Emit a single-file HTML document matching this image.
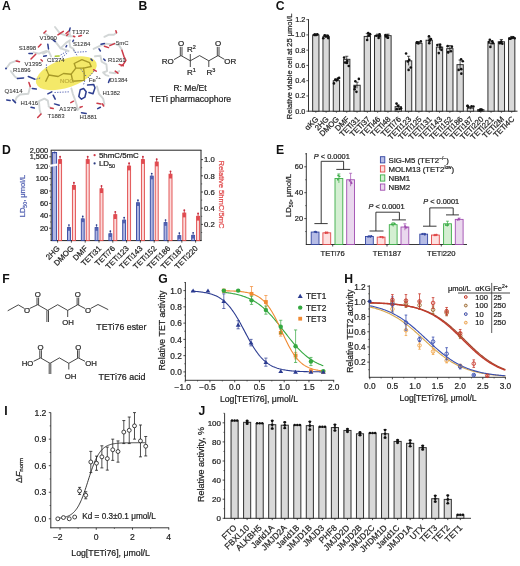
<!DOCTYPE html>
<html><head><meta charset="utf-8"><style>
html,body{margin:0;padding:0;background:#fff;width:520px;height:566px;overflow:hidden}
svg{display:block;filter:blur(0.3px)}
text{font-family:'Liberation Sans', Arial, sans-serif}
</style></head><body>
<svg width="520" height="566" viewBox="0 0 520 566">
<rect width="520" height="566" fill="#fff"/>
<text x="2" y="10.3" font-size="12.2" text-anchor="start" fill="#111" font-weight="bold" >A</text>
<text x="138.5" y="10.3" font-size="12.2" text-anchor="start" fill="#111" font-weight="bold" >B</text>
<text x="275.8" y="10.3" font-size="12.2" text-anchor="start" fill="#111" font-weight="bold" >C</text>
<text x="2" y="154" font-size="12.2" text-anchor="start" fill="#111" font-weight="bold" >D</text>
<text x="276" y="154" font-size="12.2" text-anchor="start" fill="#111" font-weight="bold" >E</text>
<text x="2.3" y="283.3" font-size="12.2" text-anchor="start" fill="#111" font-weight="bold" >F</text>
<text x="158.3" y="283.4" font-size="12.2" text-anchor="start" fill="#111" font-weight="bold" >G</text>
<text x="344.3" y="283.1" font-size="12.2" text-anchor="start" fill="#111" font-weight="bold" >H</text>
<text x="4.3" y="415" font-size="12.2" text-anchor="start" fill="#111" font-weight="bold" >I</text>
<text x="198.5" y="415" font-size="12.2" text-anchor="start" fill="#111" font-weight="bold" >J</text>
<line x1="308.5" y1="19.14" x2="308.5" y2="111.6" stroke="#333" stroke-width="1.0" />
<line x1="308" y1="111.2" x2="517.5" y2="111.2" stroke="#333" stroke-width="1.0" />
<line x1="306.3" y1="111.2" x2="308.5" y2="111.2" stroke="#333" stroke-width="0.8" />
<text x="305.3" y="113.7" font-size="7.3" text-anchor="end" fill="#1e1e1e" font-weight="normal" stroke="#1e1e1e" stroke-width="0.22" >0.0</text>
<line x1="306.3" y1="95.94" x2="308.5" y2="95.94" stroke="#333" stroke-width="0.8" />
<text x="305.3" y="98.44" font-size="7.3" text-anchor="end" fill="#1e1e1e" font-weight="normal" stroke="#1e1e1e" stroke-width="0.22" >0.2</text>
<line x1="306.3" y1="80.68" x2="308.5" y2="80.68" stroke="#333" stroke-width="0.8" />
<text x="305.3" y="83.18" font-size="7.3" text-anchor="end" fill="#1e1e1e" font-weight="normal" stroke="#1e1e1e" stroke-width="0.22" >0.4</text>
<line x1="306.3" y1="65.42" x2="308.5" y2="65.42" stroke="#333" stroke-width="0.8" />
<text x="305.3" y="67.92" font-size="7.3" text-anchor="end" fill="#1e1e1e" font-weight="normal" stroke="#1e1e1e" stroke-width="0.22" >0.6</text>
<line x1="306.3" y1="50.16" x2="308.5" y2="50.16" stroke="#333" stroke-width="0.8" />
<text x="305.3" y="52.66" font-size="7.3" text-anchor="end" fill="#1e1e1e" font-weight="normal" stroke="#1e1e1e" stroke-width="0.22" >0.8</text>
<line x1="306.3" y1="34.9" x2="308.5" y2="34.9" stroke="#333" stroke-width="0.8" />
<text x="305.3" y="37.4" font-size="7.3" text-anchor="end" fill="#1e1e1e" font-weight="normal" stroke="#1e1e1e" stroke-width="0.22" >1.0</text>
<line x1="306.3" y1="19.64" x2="308.5" y2="19.64" stroke="#333" stroke-width="0.8" />
<text x="305.3" y="22.14" font-size="7.3" text-anchor="end" fill="#1e1e1e" font-weight="normal" stroke="#1e1e1e" stroke-width="0.22" >1.2</text>
<text x="292.3" y="66.4" font-size="7.5" text-anchor="middle" fill="#1e1e1e" font-weight="normal" stroke="#1e1e1e" stroke-width="0.22" transform="rotate(-90 292.3 66.4)" >Relative viable cell at 25 μmol/L</text>
<rect x="312.65" y="34.9" width="6.3" height="76.3" fill="#d9d9d9" stroke="#303030" stroke-width="1.0" />
<line x1="315.8" y1="34.14" x2="315.8" y2="35.66" stroke="#111" stroke-width="0.7" />
<line x1="314.2" y1="34.14" x2="317.4" y2="34.14" stroke="#111" stroke-width="0.7" />
<circle cx="317.35" cy="34.37" r="1.3" fill="#111" stroke="none" stroke-width="0.6"/>
<circle cx="314.35" cy="35.02" r="1.3" fill="#111" stroke="none" stroke-width="0.6"/>
<circle cx="315.23" cy="34.88" r="1.3" fill="#111" stroke="none" stroke-width="0.6"/>
<circle cx="314.62" cy="34.47" r="1.3" fill="#111" stroke="none" stroke-width="0.6"/>
<circle cx="316.3" cy="34.94" r="1.3" fill="#111" stroke="none" stroke-width="0.6"/>
<line x1="315.8" y1="111.2" x2="315.8" y2="112.8" stroke="#333" stroke-width="0.7" />
<text x="319" y="119.6" font-size="7.8" text-anchor="end" fill="#1e1e1e" font-weight="normal" stroke="#1e1e1e" stroke-width="0.22" transform="rotate(-45 319 119.6)" >αKG</text>
<rect x="322.96" y="36.43" width="6.3" height="74.77" fill="#d9d9d9" stroke="#303030" stroke-width="1.0" />
<line x1="326.11" y1="34.9" x2="326.11" y2="37.95" stroke="#111" stroke-width="0.7" />
<line x1="324.51" y1="34.9" x2="327.71" y2="34.9" stroke="#111" stroke-width="0.7" />
<circle cx="328.19" cy="38.1" r="1.3" fill="#111" stroke="none" stroke-width="0.6"/>
<circle cx="324.64" cy="35.22" r="1.3" fill="#111" stroke="none" stroke-width="0.6"/>
<circle cx="325.81" cy="36.45" r="1.3" fill="#111" stroke="none" stroke-width="0.6"/>
<circle cx="327.84" cy="35.73" r="1.3" fill="#111" stroke="none" stroke-width="0.6"/>
<circle cx="323.28" cy="38.29" r="1.3" fill="#111" stroke="none" stroke-width="0.6"/>
<line x1="326.11" y1="111.2" x2="326.11" y2="112.8" stroke="#333" stroke-width="0.7" />
<text x="329.31" y="119.6" font-size="7.8" text-anchor="end" fill="#1e1e1e" font-weight="normal" stroke="#1e1e1e" stroke-width="0.22" transform="rotate(-45 329.31 119.6)" >2HG</text>
<rect x="333.27" y="80.68" width="6.3" height="30.52" fill="#d9d9d9" stroke="#303030" stroke-width="1.0" />
<line x1="336.42" y1="79.15" x2="336.42" y2="82.21" stroke="#111" stroke-width="0.7" />
<line x1="334.82" y1="79.15" x2="338.02" y2="79.15" stroke="#111" stroke-width="0.7" />
<circle cx="339.11" cy="77.9" r="1.3" fill="#111" stroke="none" stroke-width="0.6"/>
<circle cx="333.93" cy="83.39" r="1.3" fill="#111" stroke="none" stroke-width="0.6"/>
<circle cx="337.84" cy="78.63" r="1.3" fill="#111" stroke="none" stroke-width="0.6"/>
<circle cx="335.27" cy="79.64" r="1.3" fill="#111" stroke="none" stroke-width="0.6"/>
<circle cx="337.06" cy="80.03" r="1.3" fill="#111" stroke="none" stroke-width="0.6"/>
<line x1="336.42" y1="111.2" x2="336.42" y2="112.8" stroke="#333" stroke-width="0.7" />
<text x="339.62" y="119.6" font-size="7.8" text-anchor="end" fill="#1e1e1e" font-weight="normal" stroke="#1e1e1e" stroke-width="0.22" transform="rotate(-45 339.62 119.6)" >DMOG</text>
<rect x="343.58" y="59.32" width="6.3" height="51.88" fill="#d9d9d9" stroke="#303030" stroke-width="1.0" />
<line x1="346.73" y1="56.26" x2="346.73" y2="62.37" stroke="#111" stroke-width="0.7" />
<line x1="345.13" y1="56.26" x2="348.33" y2="56.26" stroke="#111" stroke-width="0.7" />
<circle cx="347" cy="62.91" r="1.3" fill="#111" stroke="none" stroke-width="0.6"/>
<circle cx="347.35" cy="61.1" r="1.3" fill="#111" stroke="none" stroke-width="0.6"/>
<circle cx="344.12" cy="57.59" r="1.3" fill="#111" stroke="none" stroke-width="0.6"/>
<circle cx="348.75" cy="66" r="1.3" fill="#111" stroke="none" stroke-width="0.6"/>
<circle cx="345.14" cy="62.62" r="1.3" fill="#111" stroke="none" stroke-width="0.6"/>
<line x1="346.73" y1="111.2" x2="346.73" y2="112.8" stroke="#333" stroke-width="0.7" />
<text x="349.93" y="119.6" font-size="7.8" text-anchor="end" fill="#1e1e1e" font-weight="normal" stroke="#1e1e1e" stroke-width="0.22" transform="rotate(-45 349.93 119.6)" >DMF</text>
<rect x="353.89" y="85.26" width="6.3" height="25.94" fill="#d9d9d9" stroke="#303030" stroke-width="1.0" />
<line x1="357.04" y1="82.21" x2="357.04" y2="88.31" stroke="#111" stroke-width="0.7" />
<line x1="355.44" y1="82.21" x2="358.64" y2="82.21" stroke="#111" stroke-width="0.7" />
<circle cx="354.66" cy="89.29" r="1.3" fill="#111" stroke="none" stroke-width="0.6"/>
<circle cx="354.97" cy="86.84" r="1.3" fill="#111" stroke="none" stroke-width="0.6"/>
<circle cx="356.45" cy="91.87" r="1.3" fill="#111" stroke="none" stroke-width="0.6"/>
<circle cx="358.84" cy="78.88" r="1.3" fill="#111" stroke="none" stroke-width="0.6"/>
<circle cx="355.37" cy="81.21" r="1.3" fill="#111" stroke="none" stroke-width="0.6"/>
<line x1="357.04" y1="111.2" x2="357.04" y2="112.8" stroke="#333" stroke-width="0.7" />
<text x="360.24" y="119.6" font-size="7.8" text-anchor="end" fill="#1e1e1e" font-weight="normal" stroke="#1e1e1e" stroke-width="0.22" transform="rotate(-45 360.24 119.6)" >TETi31</text>
<rect x="364.2" y="36.43" width="6.3" height="74.77" fill="#d9d9d9" stroke="#303030" stroke-width="1.0" />
<line x1="367.35" y1="33.37" x2="367.35" y2="39.48" stroke="#111" stroke-width="0.7" />
<line x1="365.75" y1="33.37" x2="368.95" y2="33.37" stroke="#111" stroke-width="0.7" />
<circle cx="368.8" cy="35.49" r="1.3" fill="#111" stroke="none" stroke-width="0.6"/>
<circle cx="370" cy="34.17" r="1.3" fill="#111" stroke="none" stroke-width="0.6"/>
<circle cx="369.88" cy="34.6" r="1.3" fill="#111" stroke="none" stroke-width="0.6"/>
<circle cx="367.14" cy="40.02" r="1.3" fill="#111" stroke="none" stroke-width="0.6"/>
<circle cx="368.24" cy="33.04" r="1.3" fill="#111" stroke="none" stroke-width="0.6"/>
<line x1="367.35" y1="111.2" x2="367.35" y2="112.8" stroke="#333" stroke-width="0.7" />
<text x="370.55" y="119.6" font-size="7.8" text-anchor="end" fill="#1e1e1e" font-weight="normal" stroke="#1e1e1e" stroke-width="0.22" transform="rotate(-45 370.55 119.6)" >TETi37</text>
<rect x="374.51" y="35.66" width="6.3" height="75.54" fill="#d9d9d9" stroke="#303030" stroke-width="1.0" />
<line x1="377.66" y1="34.14" x2="377.66" y2="37.19" stroke="#111" stroke-width="0.7" />
<line x1="376.06" y1="34.14" x2="379.26" y2="34.14" stroke="#111" stroke-width="0.7" />
<circle cx="379.59" cy="34.32" r="1.3" fill="#111" stroke="none" stroke-width="0.6"/>
<circle cx="376.23" cy="35.73" r="1.3" fill="#111" stroke="none" stroke-width="0.6"/>
<circle cx="378.64" cy="37.95" r="1.3" fill="#111" stroke="none" stroke-width="0.6"/>
<circle cx="379.22" cy="35.8" r="1.3" fill="#111" stroke="none" stroke-width="0.6"/>
<circle cx="379.28" cy="36.24" r="1.3" fill="#111" stroke="none" stroke-width="0.6"/>
<line x1="377.66" y1="111.2" x2="377.66" y2="112.8" stroke="#333" stroke-width="0.7" />
<text x="380.86" y="119.6" font-size="7.8" text-anchor="end" fill="#1e1e1e" font-weight="normal" stroke="#1e1e1e" stroke-width="0.22" transform="rotate(-45 380.86 119.6)" >TETi46</text>
<rect x="384.82" y="35.66" width="6.3" height="75.54" fill="#d9d9d9" stroke="#303030" stroke-width="1.0" />
<line x1="387.97" y1="34.14" x2="387.97" y2="37.19" stroke="#111" stroke-width="0.7" />
<line x1="386.37" y1="34.14" x2="389.57" y2="34.14" stroke="#111" stroke-width="0.7" />
<circle cx="385.88" cy="36.47" r="1.3" fill="#111" stroke="none" stroke-width="0.6"/>
<circle cx="385.4" cy="34.97" r="1.3" fill="#111" stroke="none" stroke-width="0.6"/>
<circle cx="387.16" cy="35.5" r="1.3" fill="#111" stroke="none" stroke-width="0.6"/>
<circle cx="388.01" cy="37.69" r="1.3" fill="#111" stroke="none" stroke-width="0.6"/>
<circle cx="387.57" cy="37.78" r="1.3" fill="#111" stroke="none" stroke-width="0.6"/>
<line x1="387.97" y1="111.2" x2="387.97" y2="112.8" stroke="#333" stroke-width="0.7" />
<text x="391.17" y="119.6" font-size="7.8" text-anchor="end" fill="#1e1e1e" font-weight="normal" stroke="#1e1e1e" stroke-width="0.22" transform="rotate(-45 391.17 119.6)" >TETi48</text>
<rect x="395.13" y="106.62" width="6.3" height="4.58" fill="#d9d9d9" stroke="#303030" stroke-width="1.0" />
<line x1="398.28" y1="105.1" x2="398.28" y2="108.15" stroke="#111" stroke-width="0.7" />
<line x1="396.68" y1="105.1" x2="399.88" y2="105.1" stroke="#111" stroke-width="0.7" />
<circle cx="401.05" cy="108.29" r="1.3" fill="#111" stroke="none" stroke-width="0.6"/>
<circle cx="399.51" cy="108.9" r="1.3" fill="#111" stroke="none" stroke-width="0.6"/>
<circle cx="396.76" cy="109.15" r="1.3" fill="#111" stroke="none" stroke-width="0.6"/>
<circle cx="396.54" cy="103.58" r="1.3" fill="#111" stroke="none" stroke-width="0.6"/>
<circle cx="398.03" cy="105.76" r="1.3" fill="#111" stroke="none" stroke-width="0.6"/>
<line x1="398.28" y1="111.2" x2="398.28" y2="112.8" stroke="#333" stroke-width="0.7" />
<text x="401.48" y="119.6" font-size="7.8" text-anchor="end" fill="#1e1e1e" font-weight="normal" stroke="#1e1e1e" stroke-width="0.22" transform="rotate(-45 401.48 119.6)" >TETi76</text>
<rect x="405.44" y="60.84" width="6.3" height="50.36" fill="#d9d9d9" stroke="#303030" stroke-width="1.0" />
<line x1="408.59" y1="56.26" x2="408.59" y2="65.42" stroke="#111" stroke-width="0.7" />
<line x1="406.99" y1="56.26" x2="410.19" y2="56.26" stroke="#111" stroke-width="0.7" />
<circle cx="407.83" cy="61.52" r="1.3" fill="#111" stroke="none" stroke-width="0.6"/>
<circle cx="410.79" cy="67.46" r="1.3" fill="#111" stroke="none" stroke-width="0.6"/>
<circle cx="408.61" cy="69.88" r="1.3" fill="#111" stroke="none" stroke-width="0.6"/>
<circle cx="406.07" cy="53.55" r="1.3" fill="#111" stroke="none" stroke-width="0.6"/>
<circle cx="409.29" cy="59.85" r="1.3" fill="#111" stroke="none" stroke-width="0.6"/>
<line x1="408.59" y1="111.2" x2="408.59" y2="112.8" stroke="#333" stroke-width="0.7" />
<text x="411.79" y="119.6" font-size="7.8" text-anchor="end" fill="#1e1e1e" font-weight="normal" stroke="#1e1e1e" stroke-width="0.22" transform="rotate(-45 411.79 119.6)" >TETi123</text>
<rect x="415.75" y="43.29" width="6.3" height="67.91" fill="#d9d9d9" stroke="#303030" stroke-width="1.0" />
<line x1="418.9" y1="41.77" x2="418.9" y2="44.82" stroke="#111" stroke-width="0.7" />
<line x1="417.3" y1="41.77" x2="420.5" y2="41.77" stroke="#111" stroke-width="0.7" />
<circle cx="418.47" cy="42.86" r="1.3" fill="#111" stroke="none" stroke-width="0.6"/>
<circle cx="417.14" cy="42.82" r="1.3" fill="#111" stroke="none" stroke-width="0.6"/>
<circle cx="420.84" cy="41.38" r="1.3" fill="#111" stroke="none" stroke-width="0.6"/>
<circle cx="416.86" cy="42.36" r="1.3" fill="#111" stroke="none" stroke-width="0.6"/>
<circle cx="417.87" cy="43.17" r="1.3" fill="#111" stroke="none" stroke-width="0.6"/>
<line x1="418.9" y1="111.2" x2="418.9" y2="112.8" stroke="#333" stroke-width="0.7" />
<text x="422.1" y="119.6" font-size="7.8" text-anchor="end" fill="#1e1e1e" font-weight="normal" stroke="#1e1e1e" stroke-width="0.22" transform="rotate(-45 422.1 119.6)" >TETi125</text>
<rect x="426.06" y="40.24" width="6.3" height="70.96" fill="#d9d9d9" stroke="#303030" stroke-width="1.0" />
<line x1="429.21" y1="37.95" x2="429.21" y2="42.53" stroke="#111" stroke-width="0.7" />
<line x1="427.61" y1="37.95" x2="430.81" y2="37.95" stroke="#111" stroke-width="0.7" />
<circle cx="429.57" cy="40.68" r="1.3" fill="#111" stroke="none" stroke-width="0.6"/>
<circle cx="429" cy="36.36" r="1.3" fill="#111" stroke="none" stroke-width="0.6"/>
<circle cx="429.73" cy="40.17" r="1.3" fill="#111" stroke="none" stroke-width="0.6"/>
<circle cx="429.28" cy="43.13" r="1.3" fill="#111" stroke="none" stroke-width="0.6"/>
<circle cx="430.97" cy="39.05" r="1.3" fill="#111" stroke="none" stroke-width="0.6"/>
<line x1="429.21" y1="111.2" x2="429.21" y2="112.8" stroke="#333" stroke-width="0.7" />
<text x="432.41" y="119.6" font-size="7.8" text-anchor="end" fill="#1e1e1e" font-weight="normal" stroke="#1e1e1e" stroke-width="0.22" transform="rotate(-45 432.41 119.6)" >TETi131</text>
<rect x="436.37" y="47.11" width="6.3" height="64.09" fill="#d9d9d9" stroke="#303030" stroke-width="1.0" />
<line x1="439.52" y1="44.06" x2="439.52" y2="50.16" stroke="#111" stroke-width="0.7" />
<line x1="437.92" y1="44.06" x2="441.12" y2="44.06" stroke="#111" stroke-width="0.7" />
<circle cx="440.46" cy="47.42" r="1.3" fill="#111" stroke="none" stroke-width="0.6"/>
<circle cx="437.38" cy="45.08" r="1.3" fill="#111" stroke="none" stroke-width="0.6"/>
<circle cx="438.77" cy="53.08" r="1.3" fill="#111" stroke="none" stroke-width="0.6"/>
<circle cx="441.38" cy="49.87" r="1.3" fill="#111" stroke="none" stroke-width="0.6"/>
<circle cx="440.13" cy="44.78" r="1.3" fill="#111" stroke="none" stroke-width="0.6"/>
<line x1="439.52" y1="111.2" x2="439.52" y2="112.8" stroke="#333" stroke-width="0.7" />
<text x="442.72" y="119.6" font-size="7.8" text-anchor="end" fill="#1e1e1e" font-weight="normal" stroke="#1e1e1e" stroke-width="0.22" transform="rotate(-45 442.72 119.6)" >TETi143</text>
<rect x="446.68" y="48.63" width="6.3" height="62.57" fill="#d9d9d9" stroke="#303030" stroke-width="1.0" />
<line x1="449.83" y1="45.58" x2="449.83" y2="51.69" stroke="#111" stroke-width="0.7" />
<line x1="448.23" y1="45.58" x2="451.43" y2="45.58" stroke="#111" stroke-width="0.7" />
<circle cx="450.94" cy="51.21" r="1.3" fill="#111" stroke="none" stroke-width="0.6"/>
<circle cx="451.93" cy="46.67" r="1.3" fill="#111" stroke="none" stroke-width="0.6"/>
<circle cx="448.21" cy="51.99" r="1.3" fill="#111" stroke="none" stroke-width="0.6"/>
<circle cx="448.18" cy="52.4" r="1.3" fill="#111" stroke="none" stroke-width="0.6"/>
<circle cx="447.61" cy="46.13" r="1.3" fill="#111" stroke="none" stroke-width="0.6"/>
<line x1="449.83" y1="111.2" x2="449.83" y2="112.8" stroke="#333" stroke-width="0.7" />
<text x="453.03" y="119.6" font-size="7.8" text-anchor="end" fill="#1e1e1e" font-weight="normal" stroke="#1e1e1e" stroke-width="0.22" transform="rotate(-45 453.03 119.6)" >TETi152</text>
<rect x="456.99" y="64.66" width="6.3" height="46.54" fill="#d9d9d9" stroke="#303030" stroke-width="1.0" />
<line x1="460.14" y1="60.08" x2="460.14" y2="69.23" stroke="#111" stroke-width="0.7" />
<line x1="458.54" y1="60.08" x2="461.74" y2="60.08" stroke="#111" stroke-width="0.7" />
<circle cx="461.36" cy="73.66" r="1.3" fill="#111" stroke="none" stroke-width="0.6"/>
<circle cx="462.78" cy="61.18" r="1.3" fill="#111" stroke="none" stroke-width="0.6"/>
<circle cx="458.67" cy="69.9" r="1.3" fill="#111" stroke="none" stroke-width="0.6"/>
<circle cx="461.09" cy="59.3" r="1.3" fill="#111" stroke="none" stroke-width="0.6"/>
<circle cx="461.25" cy="69.17" r="1.3" fill="#111" stroke="none" stroke-width="0.6"/>
<line x1="460.14" y1="111.2" x2="460.14" y2="112.8" stroke="#333" stroke-width="0.7" />
<text x="463.34" y="119.6" font-size="7.8" text-anchor="end" fill="#1e1e1e" font-weight="normal" stroke="#1e1e1e" stroke-width="0.22" transform="rotate(-45 463.34 119.6)" >TETi186</text>
<rect x="467.3" y="108.15" width="6.3" height="3.05" fill="#d9d9d9" stroke="#303030" stroke-width="1.0" />
<line x1="470.45" y1="107" x2="470.45" y2="109.29" stroke="#111" stroke-width="0.7" />
<line x1="468.85" y1="107" x2="472.05" y2="107" stroke="#111" stroke-width="0.7" />
<circle cx="467.52" cy="106.02" r="1.3" fill="#111" stroke="none" stroke-width="0.6"/>
<circle cx="468.4" cy="107.07" r="1.3" fill="#111" stroke="none" stroke-width="0.6"/>
<circle cx="467.55" cy="105.92" r="1.3" fill="#111" stroke="none" stroke-width="0.6"/>
<circle cx="471.54" cy="106.41" r="1.3" fill="#111" stroke="none" stroke-width="0.6"/>
<circle cx="473.45" cy="106.51" r="1.3" fill="#111" stroke="none" stroke-width="0.6"/>
<line x1="470.45" y1="111.2" x2="470.45" y2="112.8" stroke="#333" stroke-width="0.7" />
<text x="473.65" y="119.6" font-size="7.8" text-anchor="end" fill="#1e1e1e" font-weight="normal" stroke="#1e1e1e" stroke-width="0.22" transform="rotate(-45 473.65 119.6)" >TETi187</text>
<rect x="477.61" y="109.67" width="6.3" height="1.53" fill="#d9d9d9" stroke="#303030" stroke-width="1.0" />
<line x1="480.76" y1="108.91" x2="480.76" y2="110.44" stroke="#111" stroke-width="0.7" />
<line x1="479.16" y1="108.91" x2="482.36" y2="108.91" stroke="#111" stroke-width="0.7" />
<circle cx="480.64" cy="109.89" r="1.3" fill="#111" stroke="none" stroke-width="0.6"/>
<circle cx="480.44" cy="109.8" r="1.3" fill="#111" stroke="none" stroke-width="0.6"/>
<circle cx="481.71" cy="109.81" r="1.3" fill="#111" stroke="none" stroke-width="0.6"/>
<circle cx="481.57" cy="110.04" r="1.3" fill="#111" stroke="none" stroke-width="0.6"/>
<circle cx="479.57" cy="110.42" r="1.3" fill="#111" stroke="none" stroke-width="0.6"/>
<line x1="480.76" y1="111.2" x2="480.76" y2="112.8" stroke="#333" stroke-width="0.7" />
<text x="483.96" y="119.6" font-size="7.8" text-anchor="end" fill="#1e1e1e" font-weight="normal" stroke="#1e1e1e" stroke-width="0.22" transform="rotate(-45 483.96 119.6)" >TETi220</text>
<rect x="487.92" y="43.29" width="6.3" height="67.91" fill="#d9d9d9" stroke="#303030" stroke-width="1.0" />
<line x1="491.07" y1="41" x2="491.07" y2="45.58" stroke="#111" stroke-width="0.7" />
<line x1="489.47" y1="41" x2="492.67" y2="41" stroke="#111" stroke-width="0.7" />
<circle cx="492.91" cy="43.13" r="1.3" fill="#111" stroke="none" stroke-width="0.6"/>
<circle cx="489.81" cy="39.78" r="1.3" fill="#111" stroke="none" stroke-width="0.6"/>
<circle cx="492.3" cy="41.26" r="1.3" fill="#111" stroke="none" stroke-width="0.6"/>
<circle cx="488.73" cy="42.06" r="1.3" fill="#111" stroke="none" stroke-width="0.6"/>
<circle cx="490.38" cy="46.9" r="1.3" fill="#111" stroke="none" stroke-width="0.6"/>
<line x1="491.07" y1="111.2" x2="491.07" y2="112.8" stroke="#333" stroke-width="0.7" />
<text x="494.27" y="119.6" font-size="7.8" text-anchor="end" fill="#1e1e1e" font-weight="normal" stroke="#1e1e1e" stroke-width="0.22" transform="rotate(-45 494.27 119.6)" >TETi221</text>
<rect x="498.23" y="41.77" width="6.3" height="69.43" fill="#d9d9d9" stroke="#303030" stroke-width="1.0" />
<line x1="501.38" y1="39.48" x2="501.38" y2="44.06" stroke="#111" stroke-width="0.7" />
<line x1="499.78" y1="39.48" x2="502.98" y2="39.48" stroke="#111" stroke-width="0.7" />
<circle cx="502.35" cy="43.71" r="1.3" fill="#111" stroke="none" stroke-width="0.6"/>
<circle cx="499.57" cy="42.78" r="1.3" fill="#111" stroke="none" stroke-width="0.6"/>
<circle cx="501.34" cy="41.83" r="1.3" fill="#111" stroke="none" stroke-width="0.6"/>
<circle cx="501.13" cy="41.89" r="1.3" fill="#111" stroke="none" stroke-width="0.6"/>
<circle cx="499.9" cy="43.2" r="1.3" fill="#111" stroke="none" stroke-width="0.6"/>
<line x1="501.38" y1="111.2" x2="501.38" y2="112.8" stroke="#333" stroke-width="0.7" />
<text x="504.58" y="119.6" font-size="7.8" text-anchor="end" fill="#1e1e1e" font-weight="normal" stroke="#1e1e1e" stroke-width="0.22" transform="rotate(-45 504.58 119.6)" >TETi2M</text>
<rect x="508.54" y="37.95" width="6.3" height="73.25" fill="#d9d9d9" stroke="#303030" stroke-width="1.0" />
<line x1="511.69" y1="36.43" x2="511.69" y2="39.48" stroke="#111" stroke-width="0.7" />
<line x1="510.09" y1="36.43" x2="513.29" y2="36.43" stroke="#111" stroke-width="0.7" />
<circle cx="513.4" cy="37.41" r="1.3" fill="#111" stroke="none" stroke-width="0.6"/>
<circle cx="511.76" cy="37.89" r="1.3" fill="#111" stroke="none" stroke-width="0.6"/>
<circle cx="514.67" cy="38.28" r="1.3" fill="#111" stroke="none" stroke-width="0.6"/>
<circle cx="509.58" cy="38.59" r="1.3" fill="#111" stroke="none" stroke-width="0.6"/>
<circle cx="510.25" cy="38.68" r="1.3" fill="#111" stroke="none" stroke-width="0.6"/>
<line x1="511.69" y1="111.2" x2="511.69" y2="112.8" stroke="#333" stroke-width="0.7" />
<text x="514.89" y="119.6" font-size="7.8" text-anchor="end" fill="#1e1e1e" font-weight="normal" stroke="#1e1e1e" stroke-width="0.22" transform="rotate(-45 514.89 119.6)" >TETi4C</text>
<polyline points="174,59.6 181,55.6 190.3,60.8 199.6,55.6 208.8,60.8 218,55.6 224.5,59.4" stroke="#262626" stroke-width="0.85" fill="none" />
<line x1="180.3" y1="55.8" x2="180.3" y2="46.8" stroke="#262626" stroke-width="0.85" />
<line x1="182" y1="55.8" x2="182" y2="46.8" stroke="#262626" stroke-width="0.85" />
<line x1="217.3" y1="55.8" x2="217.3" y2="46.8" stroke="#262626" stroke-width="0.85" />
<line x1="219" y1="55.8" x2="219" y2="46.8" stroke="#262626" stroke-width="0.85" />
<text x="181.1" y="46.2" font-size="8" text-anchor="middle" fill="#262626" font-weight="normal" stroke="#262626" stroke-width="0.22" >O</text>
<text x="218.1" y="46.2" font-size="8" text-anchor="middle" fill="#262626" font-weight="normal" stroke="#262626" stroke-width="0.22" >O</text>
<line x1="190.3" y1="60.8" x2="190.3" y2="54" stroke="#262626" stroke-width="0.85" />
<line x1="190.3" y1="60.8" x2="190.3" y2="67" stroke="#262626" stroke-width="0.85" />
<line x1="208.8" y1="60.8" x2="208.8" y2="67" stroke="#262626" stroke-width="0.85" />
<text x="173.8" y="63.6" font-size="8" text-anchor="end" fill="#262626" font-weight="normal" stroke="#262626" stroke-width="0.22" >RO</text>
<text x="224.3" y="63.6" font-size="8" text-anchor="start" fill="#262626" font-weight="normal" stroke="#262626" stroke-width="0.22" >OR</text>
<text x="187" y="52.3" font-size="8" text-anchor="start" fill="#262626" font-weight="normal" stroke="#262626" stroke-width="0.22" >R<tspan font-size="5.5" dy="-3">2</tspan></text>
<text x="187" y="75" font-size="8" text-anchor="start" fill="#262626" font-weight="normal" stroke="#262626" stroke-width="0.22" >R<tspan font-size="5.5" dy="-3">1</tspan></text>
<text x="206.5" y="75.4" font-size="8" text-anchor="start" fill="#262626" font-weight="normal" stroke="#262626" stroke-width="0.22" >R<tspan font-size="5.5" dy="-3">3</tspan></text>
<text x="190" y="91.1" font-size="8.5" text-anchor="middle" fill="#1e1e1e" font-weight="normal" stroke="#1e1e1e" stroke-width="0.22" >R: Me/Et</text>
<text x="190.5" y="101.9" font-size="8.7" text-anchor="middle" fill="#1e1e1e" font-weight="normal" stroke="#1e1e1e" stroke-width="0.22" >TETi pharmacophore</text>
<polyline points="7.7,310.8 18.3,304.9 24.5,308.5" stroke="#262626" stroke-width="0.85" fill="none" />
<text x="27" y="312.6" font-size="7.8" text-anchor="middle" fill="#262626" font-weight="normal" stroke="#262626" stroke-width="0.22" >O</text>
<polyline points="29.6,308.5 37.7,304.7 47.7,310.4 57.7,304.7 67.7,310.4 77.8,304.7 85.2,308.6" stroke="#262626" stroke-width="0.85" fill="none" />
<line x1="37" y1="304.9" x2="37" y2="297.5" stroke="#262626" stroke-width="0.85" />
<line x1="38.6" y1="304.9" x2="38.6" y2="297.5" stroke="#262626" stroke-width="0.85" />
<text x="37.8" y="297" font-size="7.8" text-anchor="middle" fill="#262626" font-weight="normal" stroke="#262626" stroke-width="0.22" >O</text>
<line x1="46.9" y1="310.4" x2="46.9" y2="322" stroke="#262626" stroke-width="0.85" />
<line x1="48.5" y1="310.4" x2="48.5" y2="322" stroke="#262626" stroke-width="0.85" />
<line x1="67.7" y1="310.4" x2="67.7" y2="317" stroke="#262626" stroke-width="0.85" />
<text x="68" y="324.8" font-size="7.8" text-anchor="middle" fill="#262626" font-weight="normal" stroke="#262626" stroke-width="0.22" >OH</text>
<line x1="77.1" y1="304.9" x2="77.1" y2="297.5" stroke="#262626" stroke-width="0.85" />
<line x1="78.7" y1="304.9" x2="78.7" y2="297.5" stroke="#262626" stroke-width="0.85" />
<text x="77.9" y="297" font-size="7.8" text-anchor="middle" fill="#262626" font-weight="normal" stroke="#262626" stroke-width="0.22" >O</text>
<text x="88" y="312.6" font-size="7.8" text-anchor="middle" fill="#262626" font-weight="normal" stroke="#262626" stroke-width="0.22" >O</text>
<polyline points="90.6,308.5 98,304.5 108.2,309.6" stroke="#262626" stroke-width="0.85" fill="none" />
<text x="96.3" y="330.1" font-size="8.8" text-anchor="start" fill="#1e1e1e" font-weight="normal" stroke="#1e1e1e" stroke-width="0.22" >TETi76 ester</text>
<text x="33.4" y="366.2" font-size="7.8" text-anchor="end" fill="#262626" font-weight="normal" stroke="#262626" stroke-width="0.22" >HO</text>
<polyline points="33.6,361.3 40.6,357.9 50,363.3 59.4,357.9 68.8,363.3 78.3,357.9 85,361.3" stroke="#262626" stroke-width="0.85" fill="none" />
<line x1="39.8" y1="357.9" x2="39.8" y2="350.2" stroke="#262626" stroke-width="0.85" />
<line x1="41.4" y1="357.9" x2="41.4" y2="350.2" stroke="#262626" stroke-width="0.85" />
<text x="40.6" y="349.8" font-size="7.8" text-anchor="middle" fill="#262626" font-weight="normal" stroke="#262626" stroke-width="0.22" >O</text>
<line x1="49.2" y1="363.3" x2="49.2" y2="374" stroke="#262626" stroke-width="0.85" />
<line x1="50.8" y1="363.3" x2="50.8" y2="374" stroke="#262626" stroke-width="0.85" />
<line x1="68.8" y1="363.3" x2="68.8" y2="369.5" stroke="#262626" stroke-width="0.85" />
<text x="70.5" y="378.7" font-size="7.8" text-anchor="middle" fill="#262626" font-weight="normal" stroke="#262626" stroke-width="0.22" >OH</text>
<line x1="77.5" y1="357.9" x2="77.5" y2="350.2" stroke="#262626" stroke-width="0.85" />
<line x1="79.1" y1="357.9" x2="79.1" y2="350.2" stroke="#262626" stroke-width="0.85" />
<text x="78.3" y="349.8" font-size="7.8" text-anchor="middle" fill="#262626" font-weight="normal" stroke="#262626" stroke-width="0.22" >O</text>
<text x="85.3" y="366.2" font-size="7.8" text-anchor="start" fill="#262626" font-weight="normal" stroke="#262626" stroke-width="0.22" >OH</text>
<text x="98.5" y="379.8" font-size="8.9" text-anchor="start" fill="#1e1e1e" font-weight="normal" stroke="#1e1e1e" stroke-width="0.22" >TETi76 acid</text>
<line x1="51.2" y1="150.2" x2="51.2" y2="241" stroke="#222" stroke-width="1.0" />
<line x1="201" y1="150.2" x2="201" y2="241" stroke="#222" stroke-width="1.0" />
<line x1="50.7" y1="150.2" x2="201.5" y2="150.2" stroke="#222" stroke-width="1.0" />
<line x1="50.7" y1="240.6" x2="201.5" y2="240.6" stroke="#222" stroke-width="1.0" />
<line x1="49.2" y1="228.2" x2="51.2" y2="228.2" stroke="#222" stroke-width="0.8" />
<text x="48.2" y="230.8" font-size="7.4" text-anchor="end" fill="#1e1e1e" font-weight="normal" stroke="#1e1e1e" stroke-width="0.22" >20</text>
<line x1="49.2" y1="215.8" x2="51.2" y2="215.8" stroke="#222" stroke-width="0.8" />
<text x="48.2" y="218.4" font-size="7.4" text-anchor="end" fill="#1e1e1e" font-weight="normal" stroke="#1e1e1e" stroke-width="0.22" >40</text>
<line x1="49.2" y1="203.4" x2="51.2" y2="203.4" stroke="#222" stroke-width="0.8" />
<text x="48.2" y="206" font-size="7.4" text-anchor="end" fill="#1e1e1e" font-weight="normal" stroke="#1e1e1e" stroke-width="0.22" >60</text>
<line x1="49.2" y1="191" x2="51.2" y2="191" stroke="#222" stroke-width="0.8" />
<text x="48.2" y="193.6" font-size="7.4" text-anchor="end" fill="#1e1e1e" font-weight="normal" stroke="#1e1e1e" stroke-width="0.22" >80</text>
<line x1="49.2" y1="178.6" x2="51.2" y2="178.6" stroke="#222" stroke-width="0.8" />
<text x="48.2" y="181.2" font-size="7.4" text-anchor="end" fill="#1e1e1e" font-weight="normal" stroke="#1e1e1e" stroke-width="0.22" >100</text>
<line x1="49.2" y1="166.2" x2="51.2" y2="166.2" stroke="#222" stroke-width="0.8" />
<text x="48.2" y="168.8" font-size="7.4" text-anchor="end" fill="#1e1e1e" font-weight="normal" stroke="#1e1e1e" stroke-width="0.22" >120</text>
<line x1="50" y1="234.4" x2="51.2" y2="234.4" stroke="#222" stroke-width="0.6" />
<line x1="50" y1="222" x2="51.2" y2="222" stroke="#222" stroke-width="0.6" />
<line x1="50" y1="209.6" x2="51.2" y2="209.6" stroke="#222" stroke-width="0.6" />
<line x1="50" y1="197.2" x2="51.2" y2="197.2" stroke="#222" stroke-width="0.6" />
<line x1="50" y1="184.8" x2="51.2" y2="184.8" stroke="#222" stroke-width="0.6" />
<line x1="50" y1="172.4" x2="51.2" y2="172.4" stroke="#222" stroke-width="0.6" />
<line x1="49.2" y1="156.8" x2="51.2" y2="156.8" stroke="#222" stroke-width="0.8" />
<text x="48.2" y="152.8" font-size="7.4" text-anchor="end" fill="#1e1e1e" font-weight="normal" stroke="#1e1e1e" stroke-width="0.22" >2,000</text>
<text x="48.2" y="159.3" font-size="7.4" text-anchor="end" fill="#1e1e1e" font-weight="normal" stroke="#1e1e1e" stroke-width="0.22" >1,500</text>
<line x1="201" y1="224.4" x2="203" y2="224.4" stroke="#222" stroke-width="0.8" />
<text x="204" y="227.1" font-size="7.7" text-anchor="start" fill="#1e1e1e" font-weight="normal" stroke="#1e1e1e" stroke-width="0.22" >0.2</text>
<line x1="201" y1="208.2" x2="203" y2="208.2" stroke="#222" stroke-width="0.8" />
<text x="204" y="210.9" font-size="7.7" text-anchor="start" fill="#1e1e1e" font-weight="normal" stroke="#1e1e1e" stroke-width="0.22" >0.4</text>
<line x1="201" y1="192" x2="203" y2="192" stroke="#222" stroke-width="0.8" />
<text x="204" y="194.7" font-size="7.7" text-anchor="start" fill="#1e1e1e" font-weight="normal" stroke="#1e1e1e" stroke-width="0.22" >0.6</text>
<line x1="201" y1="175.8" x2="203" y2="175.8" stroke="#222" stroke-width="0.8" />
<text x="204" y="178.5" font-size="7.7" text-anchor="start" fill="#1e1e1e" font-weight="normal" stroke="#1e1e1e" stroke-width="0.22" >0.8</text>
<line x1="201" y1="159.6" x2="203" y2="159.6" stroke="#222" stroke-width="0.8" />
<text x="204" y="162.3" font-size="7.7" text-anchor="start" fill="#1e1e1e" font-weight="normal" stroke="#1e1e1e" stroke-width="0.22" >1.0</text>
<line x1="201" y1="232.5" x2="202.2" y2="232.5" stroke="#222" stroke-width="0.6" />
<line x1="201" y1="216.3" x2="202.2" y2="216.3" stroke="#222" stroke-width="0.6" />
<line x1="201" y1="200.1" x2="202.2" y2="200.1" stroke="#222" stroke-width="0.6" />
<line x1="201" y1="183.9" x2="202.2" y2="183.9" stroke="#222" stroke-width="0.6" />
<line x1="201" y1="167.7" x2="202.2" y2="167.7" stroke="#222" stroke-width="0.6" />
<text x="24.8" y="196" font-size="7.6" text-anchor="middle" fill="#4d5cb0" font-weight="normal" stroke="#4d5cb0" stroke-width="0.22" transform="rotate(-90 24.8 196)" >LD<tspan font-size="5.2" dy="1.8">50</tspan><tspan dy="-1.8">, μmol/L</tspan></text>
<text x="218.5" y="194.5" font-size="7.6" text-anchor="middle" fill="#e0484a" font-weight="normal" stroke="#e0484a" stroke-width="0.22" transform="rotate(90 218.5 194.5)" >Relative 5hmC/5mC</text>
<rect x="52.4" y="152.5" width="4.2" height="88.1" fill="#b0b6e2" stroke="#3346a0" stroke-width="0.9" />
<polygon points="49.7,164.8 57.1,163.6 57.1,165.8 49.7,167" fill="#fff"/>
<circle cx="54.6" cy="152.5" r="1" fill="#3346a0" stroke="none" stroke-width="0.6"/>
<rect x="58.6" y="159.6" width="3" height="81" fill="#fcdada" stroke="#e04848" stroke-width="0.9" />
<rect x="58.6" y="159.6" width="3.0" height="4.3" fill="#e04a50"/>
<line x1="60.1" y1="156.4" x2="60.1" y2="159.6" stroke="#c83040" stroke-width="0.8" />
<circle cx="60.1" cy="156.8" r="0.95" fill="#c83040" stroke="none" stroke-width="0.6"/>
<line x1="57.6" y1="240.6" x2="57.6" y2="242.6" stroke="#222" stroke-width="0.8" />
<text x="60.4" y="249" font-size="7.8" text-anchor="end" fill="#1e1e1e" font-weight="normal" stroke="#1e1e1e" stroke-width="0.22" transform="rotate(-45 60.4 249)" >2HG</text>
<rect x="67.5" y="227.58" width="2.9" height="13.02" fill="#b0b6e2" stroke="#3346a0" stroke-width="0.9" />
<rect x="67.5" y="227.58" width="2.9" height="3.2" fill="#5060b0"/>
<line x1="68.95" y1="224.58" x2="68.95" y2="227.58" stroke="#3a4a9a" stroke-width="0.7" />
<circle cx="68.95" cy="224.98" r="0.85" fill="#2a3a8a" stroke="none" stroke-width="0.6"/>
<rect x="72.4" y="185.52" width="3" height="55.08" fill="#fcdada" stroke="#e04848" stroke-width="0.9" />
<rect x="72.4" y="185.52" width="3.0" height="4.3" fill="#e04a50"/>
<line x1="73.9" y1="182.32" x2="73.9" y2="185.52" stroke="#c83040" stroke-width="0.8" />
<circle cx="73.9" cy="182.72" r="0.95" fill="#c83040" stroke="none" stroke-width="0.6"/>
<line x1="71.4" y1="240.6" x2="71.4" y2="242.6" stroke="#222" stroke-width="0.8" />
<text x="74.2" y="249" font-size="7.8" text-anchor="end" fill="#1e1e1e" font-weight="normal" stroke="#1e1e1e" stroke-width="0.22" transform="rotate(-45 74.2 249)" >DMOG</text>
<rect x="81.3" y="218.9" width="2.9" height="21.7" fill="#b0b6e2" stroke="#3346a0" stroke-width="0.9" />
<rect x="81.3" y="218.9" width="2.9" height="3.2" fill="#5060b0"/>
<line x1="82.75" y1="215.9" x2="82.75" y2="218.9" stroke="#3a4a9a" stroke-width="0.7" />
<circle cx="82.75" cy="216.3" r="0.85" fill="#2a3a8a" stroke="none" stroke-width="0.6"/>
<rect x="86.2" y="159.6" width="3" height="81" fill="#fcdada" stroke="#e04848" stroke-width="0.9" />
<rect x="86.2" y="159.6" width="3.0" height="4.3" fill="#e04a50"/>
<line x1="87.7" y1="156.4" x2="87.7" y2="159.6" stroke="#c83040" stroke-width="0.8" />
<circle cx="87.7" cy="156.8" r="0.95" fill="#c83040" stroke="none" stroke-width="0.6"/>
<line x1="85.2" y1="240.6" x2="85.2" y2="242.6" stroke="#222" stroke-width="0.8" />
<text x="88" y="249" font-size="7.8" text-anchor="end" fill="#1e1e1e" font-weight="normal" stroke="#1e1e1e" stroke-width="0.22" transform="rotate(-45 88 249)" >DMF</text>
<rect x="95.1" y="227.58" width="2.9" height="13.02" fill="#b0b6e2" stroke="#3346a0" stroke-width="0.9" />
<rect x="95.1" y="227.58" width="2.9" height="3.2" fill="#5060b0"/>
<line x1="96.55" y1="224.58" x2="96.55" y2="227.58" stroke="#3a4a9a" stroke-width="0.7" />
<circle cx="96.55" cy="224.98" r="0.85" fill="#2a3a8a" stroke="none" stroke-width="0.6"/>
<rect x="100" y="188.76" width="3" height="51.84" fill="#fcdada" stroke="#e04848" stroke-width="0.9" />
<rect x="100" y="188.76" width="3.0" height="4.3" fill="#e04a50"/>
<line x1="101.5" y1="185.56" x2="101.5" y2="188.76" stroke="#c83040" stroke-width="0.8" />
<circle cx="101.5" cy="185.96" r="0.95" fill="#c83040" stroke="none" stroke-width="0.6"/>
<line x1="99" y1="240.6" x2="99" y2="242.6" stroke="#222" stroke-width="0.8" />
<text x="101.8" y="249" font-size="7.8" text-anchor="end" fill="#1e1e1e" font-weight="normal" stroke="#1e1e1e" stroke-width="0.22" transform="rotate(-45 101.8 249)" >TET<tspan fill="#8c8c8c">i</tspan>31</text>
<rect x="108.9" y="233.78" width="2.9" height="6.82" fill="#b0b6e2" stroke="#3346a0" stroke-width="0.9" />
<rect x="108.9" y="233.78" width="2.9" height="3.2" fill="#5060b0"/>
<line x1="110.35" y1="230.78" x2="110.35" y2="233.78" stroke="#3a4a9a" stroke-width="0.7" />
<circle cx="110.35" cy="231.18" r="0.85" fill="#2a3a8a" stroke="none" stroke-width="0.6"/>
<rect x="113.8" y="214.68" width="3" height="25.92" fill="#fcdada" stroke="#e04848" stroke-width="0.9" />
<rect x="113.8" y="214.68" width="3.0" height="4.3" fill="#e04a50"/>
<line x1="115.3" y1="211.48" x2="115.3" y2="214.68" stroke="#c83040" stroke-width="0.8" />
<circle cx="115.3" cy="211.88" r="0.95" fill="#c83040" stroke="none" stroke-width="0.6"/>
<line x1="112.8" y1="240.6" x2="112.8" y2="242.6" stroke="#222" stroke-width="0.8" />
<text x="115.6" y="249" font-size="7.8" text-anchor="end" fill="#1e1e1e" font-weight="normal" stroke="#1e1e1e" stroke-width="0.22" transform="rotate(-45 115.6 249)" >TET<tspan fill="#8c8c8c">i</tspan>76</text>
<rect x="122.7" y="220.14" width="2.9" height="20.46" fill="#b0b6e2" stroke="#3346a0" stroke-width="0.9" />
<rect x="122.7" y="220.14" width="2.9" height="3.2" fill="#5060b0"/>
<line x1="124.15" y1="217.14" x2="124.15" y2="220.14" stroke="#3a4a9a" stroke-width="0.7" />
<circle cx="124.15" cy="217.54" r="0.85" fill="#2a3a8a" stroke="none" stroke-width="0.6"/>
<rect x="127.6" y="166.08" width="3" height="74.52" fill="#fcdada" stroke="#e04848" stroke-width="0.9" />
<rect x="127.6" y="166.08" width="3.0" height="4.3" fill="#e04a50"/>
<line x1="129.1" y1="162.88" x2="129.1" y2="166.08" stroke="#c83040" stroke-width="0.8" />
<circle cx="129.1" cy="163.28" r="0.95" fill="#c83040" stroke="none" stroke-width="0.6"/>
<line x1="126.6" y1="240.6" x2="126.6" y2="242.6" stroke="#222" stroke-width="0.8" />
<text x="129.4" y="249" font-size="7.8" text-anchor="end" fill="#1e1e1e" font-weight="normal" stroke="#1e1e1e" stroke-width="0.22" transform="rotate(-45 129.4 249)" >TET<tspan fill="#8c8c8c">i</tspan>123</text>
<rect x="136.5" y="202.78" width="2.9" height="37.82" fill="#b0b6e2" stroke="#3346a0" stroke-width="0.9" />
<rect x="136.5" y="202.78" width="2.9" height="3.2" fill="#5060b0"/>
<line x1="137.95" y1="199.78" x2="137.95" y2="202.78" stroke="#3a4a9a" stroke-width="0.7" />
<circle cx="137.95" cy="200.18" r="0.85" fill="#2a3a8a" stroke="none" stroke-width="0.6"/>
<rect x="141.4" y="159.6" width="3" height="81" fill="#fcdada" stroke="#e04848" stroke-width="0.9" />
<rect x="141.4" y="159.6" width="3.0" height="4.3" fill="#e04a50"/>
<line x1="142.9" y1="156.4" x2="142.9" y2="159.6" stroke="#c83040" stroke-width="0.8" />
<circle cx="142.9" cy="156.8" r="0.95" fill="#c83040" stroke="none" stroke-width="0.6"/>
<line x1="140.4" y1="240.6" x2="140.4" y2="242.6" stroke="#222" stroke-width="0.8" />
<text x="143.2" y="249" font-size="7.8" text-anchor="end" fill="#1e1e1e" font-weight="normal" stroke="#1e1e1e" stroke-width="0.22" transform="rotate(-45 143.2 249)" >TET<tspan fill="#8c8c8c">i</tspan>143</text>
<rect x="150.3" y="176.12" width="2.9" height="64.48" fill="#b0b6e2" stroke="#3346a0" stroke-width="0.9" />
<rect x="150.3" y="176.12" width="2.9" height="3.2" fill="#5060b0"/>
<line x1="151.75" y1="173.12" x2="151.75" y2="176.12" stroke="#3a4a9a" stroke-width="0.7" />
<circle cx="151.75" cy="173.52" r="0.85" fill="#2a3a8a" stroke="none" stroke-width="0.6"/>
<rect x="155.2" y="162.03" width="3" height="78.57" fill="#fcdada" stroke="#e04848" stroke-width="0.9" />
<rect x="155.2" y="162.03" width="3.0" height="4.3" fill="#e04a50"/>
<line x1="156.7" y1="158.83" x2="156.7" y2="162.03" stroke="#c83040" stroke-width="0.8" />
<circle cx="156.7" cy="159.23" r="0.95" fill="#c83040" stroke="none" stroke-width="0.6"/>
<line x1="154.2" y1="240.6" x2="154.2" y2="242.6" stroke="#222" stroke-width="0.8" />
<text x="157" y="249" font-size="7.8" text-anchor="end" fill="#1e1e1e" font-weight="normal" stroke="#1e1e1e" stroke-width="0.22" transform="rotate(-45 157 249)" >TET<tspan fill="#8c8c8c">i</tspan>152</text>
<rect x="164.1" y="222.62" width="2.9" height="17.98" fill="#b0b6e2" stroke="#3346a0" stroke-width="0.9" />
<rect x="164.1" y="222.62" width="2.9" height="3.2" fill="#5060b0"/>
<line x1="165.55" y1="219.62" x2="165.55" y2="222.62" stroke="#3a4a9a" stroke-width="0.7" />
<circle cx="165.55" cy="220.02" r="0.85" fill="#2a3a8a" stroke="none" stroke-width="0.6"/>
<rect x="169" y="174.18" width="3" height="66.42" fill="#fcdada" stroke="#e04848" stroke-width="0.9" />
<rect x="169" y="174.18" width="3.0" height="4.3" fill="#e04a50"/>
<line x1="170.5" y1="170.98" x2="170.5" y2="174.18" stroke="#c83040" stroke-width="0.8" />
<circle cx="170.5" cy="171.38" r="0.95" fill="#c83040" stroke="none" stroke-width="0.6"/>
<line x1="168" y1="240.6" x2="168" y2="242.6" stroke="#222" stroke-width="0.8" />
<text x="170.8" y="249" font-size="7.8" text-anchor="end" fill="#1e1e1e" font-weight="normal" stroke="#1e1e1e" stroke-width="0.22" transform="rotate(-45 170.8 249)" >TET<tspan fill="#8c8c8c">i</tspan>186</text>
<rect x="177.9" y="235.64" width="2.9" height="4.96" fill="#b0b6e2" stroke="#3346a0" stroke-width="0.9" />
<rect x="177.9" y="235.64" width="2.9" height="3.2" fill="#5060b0"/>
<line x1="179.35" y1="232.64" x2="179.35" y2="235.64" stroke="#3a4a9a" stroke-width="0.7" />
<circle cx="179.35" cy="233.04" r="0.85" fill="#2a3a8a" stroke="none" stroke-width="0.6"/>
<rect x="182.8" y="213.06" width="3" height="27.54" fill="#fcdada" stroke="#e04848" stroke-width="0.9" />
<rect x="182.8" y="213.06" width="3.0" height="4.3" fill="#e04a50"/>
<line x1="184.3" y1="209.86" x2="184.3" y2="213.06" stroke="#c83040" stroke-width="0.8" />
<circle cx="184.3" cy="210.26" r="0.95" fill="#c83040" stroke="none" stroke-width="0.6"/>
<line x1="181.8" y1="240.6" x2="181.8" y2="242.6" stroke="#222" stroke-width="0.8" />
<text x="184.6" y="249" font-size="7.8" text-anchor="end" fill="#1e1e1e" font-weight="normal" stroke="#1e1e1e" stroke-width="0.22" transform="rotate(-45 184.6 249)" >TET<tspan fill="#8c8c8c">i</tspan>187</text>
<rect x="191.7" y="235.33" width="2.9" height="5.27" fill="#b0b6e2" stroke="#3346a0" stroke-width="0.9" />
<rect x="191.7" y="235.33" width="2.9" height="3.2" fill="#5060b0"/>
<line x1="193.15" y1="232.33" x2="193.15" y2="235.33" stroke="#3a4a9a" stroke-width="0.7" />
<circle cx="193.15" cy="232.73" r="0.85" fill="#2a3a8a" stroke="none" stroke-width="0.6"/>
<rect x="196.6" y="216.3" width="3" height="24.3" fill="#fcdada" stroke="#e04848" stroke-width="0.9" />
<rect x="196.6" y="216.3" width="3.0" height="4.3" fill="#e04a50"/>
<line x1="198.1" y1="213.1" x2="198.1" y2="216.3" stroke="#c83040" stroke-width="0.8" />
<circle cx="198.1" cy="213.5" r="0.95" fill="#c83040" stroke="none" stroke-width="0.6"/>
<line x1="195.6" y1="240.6" x2="195.6" y2="242.6" stroke="#222" stroke-width="0.8" />
<text x="198.4" y="249" font-size="7.8" text-anchor="end" fill="#1e1e1e" font-weight="normal" stroke="#1e1e1e" stroke-width="0.22" transform="rotate(-45 198.4 249)" >TET<tspan fill="#8c8c8c">i</tspan>220</text>
<circle cx="94.6" cy="155.2" r="1.1" fill="#d03a48" stroke="none" stroke-width="0.6"/>
<text x="98.9" y="158.3" font-size="7.9" text-anchor="start" fill="#1e1e1e" font-weight="normal" stroke="#1e1e1e" stroke-width="0.22" >5hmC/5mC</text>
<circle cx="94.6" cy="163.4" r="1.1" fill="#2a3a80" stroke="none" stroke-width="0.6"/>
<text x="98.9" y="166.3" font-size="7.9" text-anchor="start" fill="#1e1e1e" font-weight="normal" stroke="#1e1e1e" stroke-width="0.22" >LD<tspan font-size="5.4" dy="1.9">50</tspan></text>
<line x1="306.3" y1="153" x2="306.3" y2="244.9" stroke="#222" stroke-width="0.9" />
<line x1="305.9" y1="244.5" x2="467" y2="244.5" stroke="#222" stroke-width="0.9" />
<line x1="304.3" y1="218.6" x2="306.3" y2="218.6" stroke="#222" stroke-width="0.8" />
<text x="303" y="221.2" font-size="7.4" text-anchor="end" fill="#1e1e1e" font-weight="normal" stroke="#1e1e1e" stroke-width="0.22" >20</text>
<line x1="304.3" y1="192.7" x2="306.3" y2="192.7" stroke="#222" stroke-width="0.8" />
<text x="303" y="195.3" font-size="7.4" text-anchor="end" fill="#1e1e1e" font-weight="normal" stroke="#1e1e1e" stroke-width="0.22" >40</text>
<line x1="304.3" y1="166.8" x2="306.3" y2="166.8" stroke="#222" stroke-width="0.8" />
<text x="303" y="169.4" font-size="7.4" text-anchor="end" fill="#1e1e1e" font-weight="normal" stroke="#1e1e1e" stroke-width="0.22" >60</text>
<line x1="305.1" y1="231.55" x2="306.3" y2="231.55" stroke="#222" stroke-width="0.6" />
<line x1="305.1" y1="205.65" x2="306.3" y2="205.65" stroke="#222" stroke-width="0.6" />
<line x1="305.1" y1="179.75" x2="306.3" y2="179.75" stroke="#222" stroke-width="0.6" />
<line x1="305.1" y1="153.85" x2="306.3" y2="153.85" stroke="#222" stroke-width="0.6" />
<text x="290.8" y="195.4" font-size="7.7" text-anchor="middle" fill="#1e1e1e" font-weight="normal" stroke="#1e1e1e" stroke-width="0.22" transform="rotate(-90 290.8 195.4)" >LD<tspan font-size="5.2" dy="1.8">50</tspan><tspan dy="-1.8">, μmol/L</tspan></text>
<rect x="311.2" y="232.07" width="7.8" height="12.43" fill="#b6bce6" stroke="#3346a0" stroke-width="0.9" />
<line x1="315.1" y1="231.42" x2="315.1" y2="232.72" stroke="#3346a0" stroke-width="0.7" />
<line x1="313.6" y1="231.42" x2="316.6" y2="231.42" stroke="#3346a0" stroke-width="0.7" />
<circle cx="315.11" cy="231.84" r="0.95" fill="#3346a0" stroke="none" stroke-width="0.6"/>
<circle cx="316.39" cy="232.27" r="0.95" fill="#3346a0" stroke="none" stroke-width="0.6"/>
<circle cx="315.45" cy="231.63" r="0.95" fill="#3346a0" stroke="none" stroke-width="0.6"/>
<rect x="322.9" y="232.84" width="7.8" height="11.65" fill="#fde0e0" stroke="#e04848" stroke-width="0.9" />
<line x1="326.8" y1="232.07" x2="326.8" y2="233.62" stroke="#e04848" stroke-width="0.7" />
<line x1="325.3" y1="232.07" x2="328.3" y2="232.07" stroke="#e04848" stroke-width="0.7" />
<circle cx="327.45" cy="232.71" r="0.95" fill="#e04848" stroke="none" stroke-width="0.6"/>
<circle cx="325.59" cy="232.56" r="0.95" fill="#e04848" stroke="none" stroke-width="0.6"/>
<circle cx="325.69" cy="233.16" r="0.95" fill="#e04848" stroke="none" stroke-width="0.6"/>
<rect x="335" y="178.45" width="7.8" height="66.05" fill="#d4efd2" stroke="#3cae48" stroke-width="0.9" />
<line x1="338.9" y1="173.92" x2="338.9" y2="182.99" stroke="#3cae48" stroke-width="0.7" />
<line x1="337.4" y1="173.92" x2="340.4" y2="173.92" stroke="#3cae48" stroke-width="0.7" />
<circle cx="338.17" cy="175.43" r="0.95" fill="#3cae48" stroke="none" stroke-width="0.6"/>
<circle cx="339.61" cy="176.35" r="0.95" fill="#3cae48" stroke="none" stroke-width="0.6"/>
<circle cx="337.89" cy="179.65" r="0.95" fill="#3cae48" stroke="none" stroke-width="0.6"/>
<rect x="346.7" y="179.75" width="7.8" height="64.75" fill="#ead8ee" stroke="#a04db0" stroke-width="0.9" />
<line x1="350.6" y1="173.28" x2="350.6" y2="186.22" stroke="#a04db0" stroke-width="0.7" />
<line x1="349.1" y1="173.28" x2="352.1" y2="173.28" stroke="#a04db0" stroke-width="0.7" />
<circle cx="351.56" cy="183.22" r="0.95" fill="#a04db0" stroke="none" stroke-width="0.6"/>
<circle cx="351.17" cy="182.17" r="0.95" fill="#a04db0" stroke="none" stroke-width="0.6"/>
<circle cx="349.67" cy="180.8" r="0.95" fill="#a04db0" stroke="none" stroke-width="0.6"/>
<line x1="332.7" y1="244.5" x2="332.7" y2="246.5" stroke="#222" stroke-width="0.8" />
<text x="332.7" y="255.8" font-size="7.6" text-anchor="middle" fill="#1e1e1e" font-weight="normal" stroke="#1e1e1e" stroke-width="0.22" >TET<tspan fill="#8c8c8c">i</tspan>76</text>
<rect x="365.5" y="236.47" width="7.8" height="8.03" fill="#b6bce6" stroke="#3346a0" stroke-width="0.9" />
<line x1="369.4" y1="235.69" x2="369.4" y2="237.25" stroke="#3346a0" stroke-width="0.7" />
<line x1="367.9" y1="235.69" x2="370.9" y2="235.69" stroke="#3346a0" stroke-width="0.7" />
<circle cx="368.03" cy="236.68" r="0.95" fill="#3346a0" stroke="none" stroke-width="0.6"/>
<circle cx="370.44" cy="236.91" r="0.95" fill="#3346a0" stroke="none" stroke-width="0.6"/>
<circle cx="371.39" cy="236.01" r="0.95" fill="#3346a0" stroke="none" stroke-width="0.6"/>
<rect x="377.2" y="237.12" width="7.8" height="7.38" fill="#fde0e0" stroke="#e04848" stroke-width="0.9" />
<line x1="381.1" y1="236.6" x2="381.1" y2="237.64" stroke="#e04848" stroke-width="0.7" />
<line x1="379.6" y1="236.6" x2="382.6" y2="236.6" stroke="#e04848" stroke-width="0.7" />
<circle cx="382.94" cy="237.43" r="0.95" fill="#e04848" stroke="none" stroke-width="0.6"/>
<circle cx="382.55" cy="237.24" r="0.95" fill="#e04848" stroke="none" stroke-width="0.6"/>
<circle cx="380.38" cy="237" r="0.95" fill="#e04848" stroke="none" stroke-width="0.6"/>
<rect x="389.3" y="224.69" width="7.8" height="19.81" fill="#d4efd2" stroke="#3cae48" stroke-width="0.9" />
<line x1="393.2" y1="222.74" x2="393.2" y2="226.63" stroke="#3cae48" stroke-width="0.7" />
<line x1="391.7" y1="222.74" x2="394.7" y2="222.74" stroke="#3cae48" stroke-width="0.7" />
<circle cx="394.8" cy="223.79" r="0.95" fill="#3cae48" stroke="none" stroke-width="0.6"/>
<circle cx="391.67" cy="224.28" r="0.95" fill="#3cae48" stroke="none" stroke-width="0.6"/>
<circle cx="392.67" cy="224.52" r="0.95" fill="#3cae48" stroke="none" stroke-width="0.6"/>
<rect x="401" y="227.02" width="7.8" height="17.48" fill="#ead8ee" stroke="#a04db0" stroke-width="0.9" />
<line x1="404.9" y1="223.78" x2="404.9" y2="230.25" stroke="#a04db0" stroke-width="0.7" />
<line x1="403.4" y1="223.78" x2="406.4" y2="223.78" stroke="#a04db0" stroke-width="0.7" />
<circle cx="405.8" cy="227.74" r="0.95" fill="#a04db0" stroke="none" stroke-width="0.6"/>
<circle cx="405.12" cy="226.16" r="0.95" fill="#a04db0" stroke="none" stroke-width="0.6"/>
<circle cx="406.81" cy="227.41" r="0.95" fill="#a04db0" stroke="none" stroke-width="0.6"/>
<line x1="387" y1="244.5" x2="387" y2="246.5" stroke="#222" stroke-width="0.8" />
<text x="387" y="255.8" font-size="7.6" text-anchor="middle" fill="#1e1e1e" font-weight="normal" stroke="#1e1e1e" stroke-width="0.22" >TET<tspan fill="#8c8c8c">i</tspan>187</text>
<rect x="419.8" y="234.14" width="7.8" height="10.36" fill="#b6bce6" stroke="#3346a0" stroke-width="0.9" />
<line x1="423.7" y1="233.36" x2="423.7" y2="234.92" stroke="#3346a0" stroke-width="0.7" />
<line x1="422.2" y1="233.36" x2="425.2" y2="233.36" stroke="#3346a0" stroke-width="0.7" />
<circle cx="425.04" cy="233.9" r="0.95" fill="#3346a0" stroke="none" stroke-width="0.6"/>
<circle cx="422.17" cy="233.98" r="0.95" fill="#3346a0" stroke="none" stroke-width="0.6"/>
<circle cx="424.78" cy="234.67" r="0.95" fill="#3346a0" stroke="none" stroke-width="0.6"/>
<rect x="431.5" y="235.05" width="7.8" height="9.45" fill="#fde0e0" stroke="#e04848" stroke-width="0.9" />
<line x1="435.4" y1="234.4" x2="435.4" y2="235.69" stroke="#e04848" stroke-width="0.7" />
<line x1="433.9" y1="234.4" x2="436.9" y2="234.4" stroke="#e04848" stroke-width="0.7" />
<circle cx="435.93" cy="235.23" r="0.95" fill="#e04848" stroke="none" stroke-width="0.6"/>
<circle cx="436.73" cy="234.68" r="0.95" fill="#e04848" stroke="none" stroke-width="0.6"/>
<circle cx="434.35" cy="235.28" r="0.95" fill="#e04848" stroke="none" stroke-width="0.6"/>
<rect x="443.6" y="223.78" width="7.8" height="20.72" fill="#d4efd2" stroke="#3cae48" stroke-width="0.9" />
<line x1="447.5" y1="221.19" x2="447.5" y2="226.37" stroke="#3cae48" stroke-width="0.7" />
<line x1="446" y1="221.19" x2="449" y2="221.19" stroke="#3cae48" stroke-width="0.7" />
<circle cx="447.09" cy="225.4" r="0.95" fill="#3cae48" stroke="none" stroke-width="0.6"/>
<circle cx="445.82" cy="225" r="0.95" fill="#3cae48" stroke="none" stroke-width="0.6"/>
<circle cx="448.16" cy="224.88" r="0.95" fill="#3cae48" stroke="none" stroke-width="0.6"/>
<rect x="455.3" y="219.38" width="7.8" height="25.12" fill="#ead8ee" stroke="#a04db0" stroke-width="0.9" />
<line x1="459.2" y1="218.08" x2="459.2" y2="220.67" stroke="#a04db0" stroke-width="0.7" />
<line x1="457.7" y1="218.08" x2="460.7" y2="218.08" stroke="#a04db0" stroke-width="0.7" />
<circle cx="458.65" cy="219.17" r="0.95" fill="#a04db0" stroke="none" stroke-width="0.6"/>
<circle cx="458.8" cy="219.27" r="0.95" fill="#a04db0" stroke="none" stroke-width="0.6"/>
<circle cx="457.62" cy="219.85" r="0.95" fill="#a04db0" stroke="none" stroke-width="0.6"/>
<line x1="441.3" y1="244.5" x2="441.3" y2="246.5" stroke="#222" stroke-width="0.8" />
<text x="441.3" y="255.8" font-size="7.6" text-anchor="middle" fill="#1e1e1e" font-weight="normal" stroke="#1e1e1e" stroke-width="0.22" >TET<tspan fill="#8c8c8c">i</tspan>220</text>
<line x1="314.4" y1="223.6" x2="327.7" y2="223.6" stroke="#222" stroke-width="0.9" />
<line x1="321.2" y1="223.6" x2="321.2" y2="161.3" stroke="#222" stroke-width="0.9" />
<line x1="321.2" y1="161.3" x2="343.6" y2="161.3" stroke="#222" stroke-width="0.9" />
<line x1="343.6" y1="161.3" x2="343.6" y2="169.4" stroke="#222" stroke-width="0.9" />
<line x1="336.3" y1="169.4" x2="350.2" y2="169.4" stroke="#222" stroke-width="0.9" />
<text x="331.8" y="158.7" font-size="7.4" text-anchor="middle" fill="#1e1e1e" font-weight="normal" stroke="#1e1e1e" stroke-width="0.22" ><tspan font-style="italic">P</tspan> &lt; 0.0001</text>
<line x1="369.5" y1="231" x2="383.5" y2="231" stroke="#222" stroke-width="0.9" />
<line x1="375.9" y1="231" x2="375.9" y2="212.2" stroke="#222" stroke-width="0.9" />
<line x1="375.9" y1="212.2" x2="399.4" y2="212.2" stroke="#222" stroke-width="0.9" />
<line x1="399.4" y1="212.2" x2="399.4" y2="219.9" stroke="#222" stroke-width="0.9" />
<line x1="392" y1="219.9" x2="405.9" y2="219.9" stroke="#222" stroke-width="0.9" />
<text x="386.6" y="208.9" font-size="7.4" text-anchor="middle" fill="#1e1e1e" font-weight="normal" stroke="#1e1e1e" stroke-width="0.22" ><tspan font-style="italic">P</tspan> &lt; 0.0001</text>
<line x1="423" y1="226.2" x2="436.5" y2="226.2" stroke="#222" stroke-width="0.9" />
<line x1="429.8" y1="226.2" x2="429.8" y2="207.9" stroke="#222" stroke-width="0.9" />
<line x1="429.8" y1="207.9" x2="453.2" y2="207.9" stroke="#222" stroke-width="0.9" />
<line x1="453.2" y1="207.9" x2="453.2" y2="214.9" stroke="#222" stroke-width="0.9" />
<line x1="446" y1="214.9" x2="458.9" y2="214.9" stroke="#222" stroke-width="0.9" />
<text x="441.2" y="203.9" font-size="7.4" text-anchor="middle" fill="#1e1e1e" font-weight="normal" stroke="#1e1e1e" stroke-width="0.22" ><tspan font-style="italic">P</tspan> &lt; 0.0001</text>
<rect x="380.4" y="156.7" width="4.4" height="6.2" fill="#b6bce6" stroke="#3346a0" stroke-width="0.9" />
<text x="388.5" y="162.6" font-size="7.8" text-anchor="start" fill="#1e1e1e" font-weight="normal" stroke="#1e1e1e" stroke-width="0.22" >SIG-M5 (TET2<tspan font-size="4.8" dy="-2.8">−/−</tspan><tspan dy="2.8">)</tspan></text>
<rect x="380.4" y="165.8" width="4.4" height="6.2" fill="#fde0e0" stroke="#e04848" stroke-width="0.9" />
<text x="388.5" y="171.7" font-size="7.8" text-anchor="start" fill="#1e1e1e" font-weight="normal" stroke="#1e1e1e" stroke-width="0.22" >MOLM13 (TET2<tspan font-size="4.8" dy="-2.8">low</tspan><tspan dy="2.8">)</tspan></text>
<rect x="380.4" y="174.9" width="4.4" height="6.2" fill="#d4efd2" stroke="#3cae48" stroke-width="0.9" />
<text x="388.5" y="180.8" font-size="7.8" text-anchor="start" fill="#1e1e1e" font-weight="normal" stroke="#1e1e1e" stroke-width="0.22" >NBM1</text>
<rect x="380.4" y="184" width="4.4" height="6.2" fill="#ead8ee" stroke="#a04db0" stroke-width="0.9" />
<text x="388.5" y="189.9" font-size="7.8" text-anchor="start" fill="#1e1e1e" font-weight="normal" stroke="#1e1e1e" stroke-width="0.22" >NBM2</text>
<line x1="185.4" y1="282" x2="185.4" y2="380.7" stroke="#222" stroke-width="0.9" />
<line x1="185" y1="380.3" x2="334.2" y2="380.3" stroke="#222" stroke-width="0.9" />
<line x1="183.4" y1="371.9" x2="185.4" y2="371.9" stroke="#222" stroke-width="0.8" />
<text x="181.8" y="375.2" font-size="8.3" text-anchor="end" fill="#1e1e1e" font-weight="normal" stroke="#1e1e1e" stroke-width="0.22" >0.0</text>
<line x1="184.2" y1="363.77" x2="185.4" y2="363.77" stroke="#222" stroke-width="0.6" />
<line x1="183.4" y1="355.64" x2="185.4" y2="355.64" stroke="#222" stroke-width="0.8" />
<text x="181.8" y="358.94" font-size="8.3" text-anchor="end" fill="#1e1e1e" font-weight="normal" stroke="#1e1e1e" stroke-width="0.22" >0.2</text>
<line x1="184.2" y1="347.51" x2="185.4" y2="347.51" stroke="#222" stroke-width="0.6" />
<line x1="183.4" y1="339.38" x2="185.4" y2="339.38" stroke="#222" stroke-width="0.8" />
<text x="181.8" y="342.68" font-size="8.3" text-anchor="end" fill="#1e1e1e" font-weight="normal" stroke="#1e1e1e" stroke-width="0.22" >0.4</text>
<line x1="184.2" y1="331.25" x2="185.4" y2="331.25" stroke="#222" stroke-width="0.6" />
<line x1="183.4" y1="323.12" x2="185.4" y2="323.12" stroke="#222" stroke-width="0.8" />
<text x="181.8" y="326.42" font-size="8.3" text-anchor="end" fill="#1e1e1e" font-weight="normal" stroke="#1e1e1e" stroke-width="0.22" >0.6</text>
<line x1="184.2" y1="314.99" x2="185.4" y2="314.99" stroke="#222" stroke-width="0.6" />
<line x1="183.4" y1="306.86" x2="185.4" y2="306.86" stroke="#222" stroke-width="0.8" />
<text x="181.8" y="310.16" font-size="8.3" text-anchor="end" fill="#1e1e1e" font-weight="normal" stroke="#1e1e1e" stroke-width="0.22" >0.8</text>
<line x1="184.2" y1="298.73" x2="185.4" y2="298.73" stroke="#222" stroke-width="0.6" />
<line x1="183.4" y1="290.6" x2="185.4" y2="290.6" stroke="#222" stroke-width="0.8" />
<text x="181.8" y="293.9" font-size="8.3" text-anchor="end" fill="#1e1e1e" font-weight="normal" stroke="#1e1e1e" stroke-width="0.22" >1.0</text>
<line x1="184.2" y1="282.47" x2="185.4" y2="282.47" stroke="#222" stroke-width="0.6" />
<line x1="184.2" y1="375.96" x2="185.4" y2="375.96" stroke="#222" stroke-width="0.6" />
<line x1="185.2" y1="380.3" x2="185.2" y2="382.3" stroke="#222" stroke-width="0.8" />
<text x="182.8" y="389.9" font-size="8.3" text-anchor="middle" fill="#1e1e1e" font-weight="normal" stroke="#1e1e1e" stroke-width="0.22" >−1.0</text>
<line x1="197.57" y1="380.3" x2="197.57" y2="381.5" stroke="#222" stroke-width="0.6" />
<line x1="209.95" y1="380.3" x2="209.95" y2="382.3" stroke="#222" stroke-width="0.8" />
<text x="207.55" y="389.9" font-size="8.3" text-anchor="middle" fill="#1e1e1e" font-weight="normal" stroke="#1e1e1e" stroke-width="0.22" >−0.5</text>
<line x1="222.32" y1="380.3" x2="222.32" y2="381.5" stroke="#222" stroke-width="0.6" />
<line x1="234.7" y1="380.3" x2="234.7" y2="382.3" stroke="#222" stroke-width="0.8" />
<text x="234.7" y="389.9" font-size="8.3" text-anchor="middle" fill="#1e1e1e" font-weight="normal" stroke="#1e1e1e" stroke-width="0.22" >0.0</text>
<line x1="247.07" y1="380.3" x2="247.07" y2="381.5" stroke="#222" stroke-width="0.6" />
<line x1="259.45" y1="380.3" x2="259.45" y2="382.3" stroke="#222" stroke-width="0.8" />
<text x="259.45" y="389.9" font-size="8.3" text-anchor="middle" fill="#1e1e1e" font-weight="normal" stroke="#1e1e1e" stroke-width="0.22" >0.5</text>
<line x1="271.82" y1="380.3" x2="271.82" y2="381.5" stroke="#222" stroke-width="0.6" />
<line x1="284.2" y1="380.3" x2="284.2" y2="382.3" stroke="#222" stroke-width="0.8" />
<text x="284.2" y="389.9" font-size="8.3" text-anchor="middle" fill="#1e1e1e" font-weight="normal" stroke="#1e1e1e" stroke-width="0.22" >1.0</text>
<line x1="296.57" y1="380.3" x2="296.57" y2="381.5" stroke="#222" stroke-width="0.6" />
<line x1="308.95" y1="380.3" x2="308.95" y2="382.3" stroke="#222" stroke-width="0.8" />
<text x="308.95" y="389.9" font-size="8.3" text-anchor="middle" fill="#1e1e1e" font-weight="normal" stroke="#1e1e1e" stroke-width="0.22" >1.5</text>
<line x1="321.32" y1="380.3" x2="321.32" y2="381.5" stroke="#222" stroke-width="0.6" />
<line x1="333.7" y1="380.3" x2="333.7" y2="382.3" stroke="#222" stroke-width="0.8" />
<text x="333.7" y="389.9" font-size="8.3" text-anchor="middle" fill="#1e1e1e" font-weight="normal" stroke="#1e1e1e" stroke-width="0.22" >2.0</text>
<text x="165.3" y="330.6" font-size="8.8" text-anchor="middle" fill="#1e1e1e" font-weight="normal" stroke="#1e1e1e" stroke-width="0.22" transform="rotate(-90 165.3 330.6)" >Relative TET activity</text>
<text x="259" y="402.2" font-size="8.7" text-anchor="middle" fill="#1e1e1e" font-weight="normal" stroke="#1e1e1e" stroke-width="0.22" >Log[TETi76], μmol/L</text>
<path d="M191.14,291.16 L192.13,291.21 L193.12,291.27 L194.11,291.33 L195.1,291.4 L196.09,291.48 L197.08,291.57 L198.07,291.66 L199.06,291.76 L200.05,291.87 L201.04,291.99 L202.03,292.12 L203.02,292.26 L204.01,292.42 L205,292.59 L205.99,292.78 L206.98,292.98 L207.97,293.21 L208.96,293.45 L209.95,293.71 L210.94,294 L211.93,294.31 L212.92,294.65 L213.91,295.02 L214.9,295.43 L215.89,295.86 L216.88,296.33 L217.87,296.84 L218.86,297.39 L219.85,297.99 L220.84,298.63 L221.83,299.33 L222.82,300.07 L223.81,300.87 L224.8,301.72 L225.79,302.64 L226.78,303.61 L227.77,304.65 L228.76,305.75 L229.75,306.92 L230.74,308.16 L231.73,309.46 L232.72,310.82 L233.71,312.26 L234.7,313.75 L235.69,315.3 L236.68,316.92 L237.67,318.58 L238.66,320.3 L239.65,322.05 L240.64,323.85 L241.63,325.67 L242.62,327.52 L243.61,329.38 L244.6,331.25 L245.59,333.12 L246.58,334.98 L247.57,336.83 L248.56,338.65 L249.55,340.45 L250.54,342.2 L251.53,343.92 L252.52,345.58 L253.51,347.2 L254.5,348.75 L255.49,350.24 L256.48,351.68 L257.47,353.04 L258.46,354.34 L259.45,355.58 L260.44,356.75 L261.43,357.85 L262.42,358.89 L263.41,359.86 L264.4,360.78 L265.39,361.63 L266.38,362.43 L267.37,363.17 L268.36,363.87 L269.35,364.51 L270.34,365.11 L271.33,365.66 L272.32,366.17 L273.31,366.64 L274.3,367.07 L275.29,367.48 L276.28,367.85 L277.27,368.19 L278.26,368.5 L279.25,368.79 L280.24,369.05 L281.23,369.29 L282.22,369.52 L283.21,369.72 L284.2,369.91 L285.19,370.08 L286.18,370.24 L287.17,370.38 L288.16,370.51 L289.15,370.63 L290.14,370.74 L291.13,370.84 L292.12,370.93 L293.11,371.02 L294.1,371.1 L295.09,371.17 L296.08,371.23 L297.07,371.29 L298.06,371.34 L299.05,371.39 L300.04,371.43 L301.03,371.48 L302.02,371.51 L303.01,371.55 L304,371.58 L304.99,371.61 L305.98,371.63 L306.97,371.66 L307.96,371.68 L308.95,371.7 L309.94,371.71 L310.93,371.73 L311.92,371.75 L312.91,371.76 L313.9,371.77 L314.89,371.78 L315.88,371.79 L316.87,371.8 L317.86,371.81 L318.85,371.82 L319.84,371.83 L320.83,371.83 L321.82,371.84 L322.81,371.84" stroke="#2b3b90" stroke-width="1.1" fill="none" />
<path d="M222.32,292.17 L223.31,292.27 L224.31,292.37 L225.29,292.48 L226.28,292.6 L227.27,292.73 L228.26,292.87 L229.25,293.01 L230.25,293.16 L231.23,293.32 L232.22,293.49 L233.21,293.67 L234.2,293.87 L235.19,294.07 L236.19,294.29 L237.17,294.51 L238.16,294.76 L239.16,295.01 L240.14,295.28 L241.13,295.57 L242.12,295.87 L243.11,296.19 L244.1,296.53 L245.09,296.89 L246.08,297.26 L247.07,297.66 L248.06,298.07 L249.06,298.51 L250.04,298.98 L251.03,299.46 L252.02,299.97 L253.01,300.51 L254,301.07 L255,301.66 L255.99,302.28 L256.98,302.92 L257.96,303.6 L258.95,304.3 L259.94,305.03 L260.94,305.8 L261.93,306.59 L262.91,307.42 L263.9,308.28 L264.89,309.16 L265.88,310.08 L266.88,311.03 L267.87,312.01 L268.86,313.02 L269.84,314.06 L270.83,315.13 L271.82,316.22 L272.81,317.34 L273.81,318.49 L274.79,319.66 L275.78,320.84 L276.77,322.05 L277.76,323.28 L278.75,324.52 L279.75,325.77 L280.74,327.03 L281.72,328.31 L282.71,329.58 L283.7,330.87 L284.69,332.15 L285.69,333.43 L286.67,334.7 L287.67,335.97 L288.65,337.23 L289.64,338.48 L290.63,339.72 L291.62,340.93 L292.62,342.13 L293.61,343.31 L294.59,344.47 L295.58,345.61 L296.57,346.72 L297.56,347.8 L298.56,348.86 L299.54,349.88 L300.53,350.88 L301.52,351.85 L302.51,352.79 L303.5,353.69 L304.5,354.57 L305.48,355.41 L306.48,356.23 L307.46,357.01 L308.45,357.76 L309.44,358.48 L310.44,359.18 L311.42,359.84 L312.42,360.47 L313.4,361.08 L314.39,361.66 L315.38,362.21 L316.38,362.73 L317.37,363.24 L318.36,363.71 L319.35,364.16 L320.33,364.59 L321.32,365 L322.31,365.39 L323.3,365.76" stroke="#34a840" stroke-width="1.1" fill="none" />
<path d="M222.32,290.74 L223.31,290.76 L224.31,290.77 L225.29,290.79 L226.28,290.82 L227.27,290.84 L228.26,290.87 L229.25,290.9 L230.25,290.93 L231.23,290.96 L232.22,291.01 L233.21,291.05 L234.2,291.1 L235.19,291.16 L236.19,291.22 L237.17,291.29 L238.16,291.36 L239.16,291.45 L240.14,291.54 L241.13,291.64 L242.12,291.76 L243.11,291.89 L244.1,292.03 L245.09,292.18 L246.08,292.36 L247.07,292.55 L248.06,292.76 L249.06,292.99 L250.04,293.25 L251.03,293.54 L252.02,293.85 L253.01,294.2 L254,294.58 L255,295 L255.99,295.47 L256.98,295.98 L257.96,296.53 L258.95,297.14 L259.94,297.81 L260.94,298.53 L261.93,299.33 L262.91,300.19 L263.9,301.12 L264.89,302.13 L265.88,303.21 L266.88,304.38 L267.87,305.64 L268.86,306.98 L269.84,308.41 L270.83,309.93 L271.82,311.53 L272.81,313.22 L273.81,314.99 L274.79,316.83 L275.78,318.75 L276.77,320.73 L277.76,322.77 L278.75,324.85 L279.75,326.96 L280.74,329.1 L281.72,331.25 L282.71,333.4 L283.7,335.54 L284.69,337.65 L285.69,339.73 L286.67,341.77 L287.67,343.75 L288.65,345.67 L289.64,347.51 L290.63,349.28 L291.62,350.97 L292.62,352.57 L293.61,354.09 L294.59,355.52 L295.58,356.86 L296.57,358.12 L297.56,359.29 L298.56,360.37 L299.54,361.38 L300.53,362.31 L301.52,363.17 L302.51,363.97 L303.5,364.69 L304.5,365.36 L305.48,365.97 L306.48,366.52 L307.46,367.03 L308.45,367.5 L309.44,367.92 L310.44,368.3 L311.42,368.65 L312.42,368.96 L313.4,369.25 L314.39,369.51 L315.38,369.74 L316.38,369.95 L317.37,370.14 L318.36,370.32 L319.35,370.47 L320.33,370.61 L321.32,370.74 L322.31,370.86 L323.3,370.96" stroke="#f08a32" stroke-width="1.1" fill="none" />
<rect x="221.91" y="288.7" width="3.8" height="3.8" fill="#f08a32"/>
<line x1="251.53" y1="286.53" x2="251.53" y2="301.17" stroke="#f08a32" stroke-width="0.7" />
<line x1="249.93" y1="286.53" x2="253.13" y2="286.53" stroke="#f08a32" stroke-width="0.7" />
<line x1="249.93" y1="301.17" x2="253.13" y2="301.17" stroke="#f08a32" stroke-width="0.7" />
<rect x="249.63" y="291.95" width="3.8" height="3.8" fill="#f08a32"/>
<line x1="265.88" y1="295.48" x2="265.88" y2="308.49" stroke="#f08a32" stroke-width="0.7" />
<line x1="264.28" y1="295.48" x2="267.49" y2="295.48" stroke="#f08a32" stroke-width="0.7" />
<line x1="264.28" y1="308.49" x2="267.49" y2="308.49" stroke="#f08a32" stroke-width="0.7" />
<rect x="263.99" y="300.08" width="3.8" height="3.8" fill="#f08a32"/>
<line x1="280.74" y1="329.62" x2="280.74" y2="336.13" stroke="#f08a32" stroke-width="0.7" />
<line x1="279.13" y1="329.62" x2="282.34" y2="329.62" stroke="#f08a32" stroke-width="0.7" />
<line x1="279.13" y1="336.13" x2="282.34" y2="336.13" stroke="#f08a32" stroke-width="0.7" />
<rect x="278.84" y="330.98" width="3.8" height="3.8" fill="#f08a32"/>
<line x1="295.58" y1="352.39" x2="295.58" y2="358.89" stroke="#f08a32" stroke-width="0.7" />
<line x1="293.98" y1="352.39" x2="297.19" y2="352.39" stroke="#f08a32" stroke-width="0.7" />
<line x1="293.98" y1="358.89" x2="297.19" y2="358.89" stroke="#f08a32" stroke-width="0.7" />
<rect x="293.69" y="353.74" width="3.8" height="3.8" fill="#f08a32"/>
<rect x="309.03" y="369.19" width="3.8" height="3.8" fill="#f08a32"/>
<rect x="321.4" y="370" width="3.8" height="3.8" fill="#f08a32"/>
<circle cx="223.81" cy="290.6" r="2.2" fill="#34a840" stroke="none" stroke-width="0.6"/>
<circle cx="238.16" cy="290.6" r="2.2" fill="#34a840" stroke="none" stroke-width="0.6"/>
<line x1="251.53" y1="296.29" x2="251.53" y2="304.42" stroke="#34a840" stroke-width="0.7" />
<line x1="249.93" y1="296.29" x2="253.13" y2="296.29" stroke="#34a840" stroke-width="0.7" />
<line x1="249.93" y1="304.42" x2="253.13" y2="304.42" stroke="#34a840" stroke-width="0.7" />
<circle cx="251.53" cy="300.36" r="2.2" fill="#34a840" stroke="none" stroke-width="0.6"/>
<line x1="265.88" y1="306.05" x2="265.88" y2="314.18" stroke="#34a840" stroke-width="0.7" />
<line x1="264.28" y1="306.05" x2="267.49" y2="306.05" stroke="#34a840" stroke-width="0.7" />
<line x1="264.28" y1="314.18" x2="267.49" y2="314.18" stroke="#34a840" stroke-width="0.7" />
<circle cx="265.88" cy="310.11" r="2.2" fill="#34a840" stroke="none" stroke-width="0.6"/>
<line x1="280.74" y1="320.27" x2="280.74" y2="333.28" stroke="#34a840" stroke-width="0.7" />
<line x1="279.13" y1="320.27" x2="282.34" y2="320.27" stroke="#34a840" stroke-width="0.7" />
<line x1="279.13" y1="333.28" x2="282.34" y2="333.28" stroke="#34a840" stroke-width="0.7" />
<circle cx="280.74" cy="326.78" r="2.2" fill="#34a840" stroke="none" stroke-width="0.6"/>
<line x1="295.58" y1="329.95" x2="295.58" y2="362.47" stroke="#34a840" stroke-width="0.7" />
<line x1="293.98" y1="329.95" x2="297.19" y2="329.95" stroke="#34a840" stroke-width="0.7" />
<line x1="293.98" y1="362.47" x2="297.19" y2="362.47" stroke="#34a840" stroke-width="0.7" />
<circle cx="295.58" cy="346.21" r="2.2" fill="#34a840" stroke="none" stroke-width="0.6"/>
<line x1="310.93" y1="357.43" x2="310.93" y2="365.56" stroke="#34a840" stroke-width="0.7" />
<line x1="309.33" y1="357.43" x2="312.53" y2="357.43" stroke="#34a840" stroke-width="0.7" />
<line x1="309.33" y1="365.56" x2="312.53" y2="365.56" stroke="#34a840" stroke-width="0.7" />
<circle cx="310.93" cy="361.49" r="2.2" fill="#34a840" stroke="none" stroke-width="0.6"/>
<circle cx="323.3" cy="371.09" r="2.2" fill="#34a840" stroke="none" stroke-width="0.6"/>
<polygon points="190.72,292.52 195.52,292.52 193.12,288.44" fill="#2b3b90"/>
<polygon points="205.57,292.52 210.37,292.52 207.97,288.44" fill="#2b3b90"/>
<line x1="223.81" y1="293.85" x2="223.81" y2="308.49" stroke="#2b3b90" stroke-width="0.7" />
<line x1="222.21" y1="293.85" x2="225.41" y2="293.85" stroke="#2b3b90" stroke-width="0.7" />
<line x1="222.21" y1="308.49" x2="225.41" y2="308.49" stroke="#2b3b90" stroke-width="0.7" />
<polygon points="221.41,303.09 226.21,303.09 223.81,299.01" fill="#2b3b90"/>
<line x1="238.16" y1="320.68" x2="238.16" y2="328.81" stroke="#2b3b90" stroke-width="0.7" />
<line x1="236.56" y1="320.68" x2="239.76" y2="320.68" stroke="#2b3b90" stroke-width="0.7" />
<line x1="236.56" y1="328.81" x2="239.76" y2="328.81" stroke="#2b3b90" stroke-width="0.7" />
<polygon points="235.76,326.67 240.56,326.67 238.16,322.59" fill="#2b3b90"/>
<line x1="251.03" y1="339.38" x2="251.03" y2="345.88" stroke="#2b3b90" stroke-width="0.7" />
<line x1="249.44" y1="339.38" x2="252.63" y2="339.38" stroke="#2b3b90" stroke-width="0.7" />
<line x1="249.44" y1="345.88" x2="252.63" y2="345.88" stroke="#2b3b90" stroke-width="0.7" />
<polygon points="248.63,344.55 253.44,344.55 251.03,340.47" fill="#2b3b90"/>
<line x1="265.88" y1="358.08" x2="265.88" y2="366.21" stroke="#2b3b90" stroke-width="0.7" />
<line x1="264.28" y1="358.08" x2="267.49" y2="358.08" stroke="#2b3b90" stroke-width="0.7" />
<line x1="264.28" y1="366.21" x2="267.49" y2="366.21" stroke="#2b3b90" stroke-width="0.7" />
<polygon points="263.49,364.06 268.28,364.06 265.88,359.98" fill="#2b3b90"/>
<polygon points="278.34,373.01 283.13,373.01 280.74,368.93" fill="#2b3b90"/>
<polygon points="293.19,373.82 297.98,373.82 295.58,369.74" fill="#2b3b90"/>
<polygon points="308.53,373.82 313.33,373.82 310.93,369.74" fill="#2b3b90"/>
<polygon points="320.9,373.82 325.7,373.82 323.3,369.74" fill="#2b3b90"/>
<polygon points="297.7,298 302.7,298 300.2,293.75" fill="#2b3b90"/>
<text x="306" y="298.5" font-size="8.3" text-anchor="start" fill="#1e1e1e" font-weight="normal" stroke="#1e1e1e" stroke-width="0.22" >TET1</text>
<circle cx="300.2" cy="307.6" r="2.2" fill="#34a840" stroke="none" stroke-width="0.6"/>
<text x="306" y="310.5" font-size="8.3" text-anchor="start" fill="#1e1e1e" font-weight="normal" stroke="#1e1e1e" stroke-width="0.22" >TET2</text>
<rect x="298.3" y="316.8" width="3.8" height="3.8" fill="#f08a32"/>
<text x="306" y="321.5" font-size="8.3" text-anchor="start" fill="#1e1e1e" font-weight="normal" stroke="#1e1e1e" stroke-width="0.22" >TET3</text>
<line x1="369.3" y1="285.2" x2="369.3" y2="377.7" stroke="#222" stroke-width="0.9" />
<line x1="368.9" y1="377.3" x2="505.9" y2="377.3" stroke="#222" stroke-width="0.9" />
<line x1="367.3" y1="362.12" x2="369.3" y2="362.12" stroke="#222" stroke-width="0.8" />
<text x="365.7" y="365.42" font-size="8.3" text-anchor="end" fill="#1e1e1e" font-weight="normal" stroke="#1e1e1e" stroke-width="0.22" >0.2</text>
<line x1="367.3" y1="346.94" x2="369.3" y2="346.94" stroke="#222" stroke-width="0.8" />
<text x="365.7" y="350.24" font-size="8.3" text-anchor="end" fill="#1e1e1e" font-weight="normal" stroke="#1e1e1e" stroke-width="0.22" >0.4</text>
<line x1="367.3" y1="331.76" x2="369.3" y2="331.76" stroke="#222" stroke-width="0.8" />
<text x="365.7" y="335.06" font-size="8.3" text-anchor="end" fill="#1e1e1e" font-weight="normal" stroke="#1e1e1e" stroke-width="0.22" >0.6</text>
<line x1="367.3" y1="316.58" x2="369.3" y2="316.58" stroke="#222" stroke-width="0.8" />
<text x="365.7" y="319.88" font-size="8.3" text-anchor="end" fill="#1e1e1e" font-weight="normal" stroke="#1e1e1e" stroke-width="0.22" >0.8</text>
<line x1="367.3" y1="301.4" x2="369.3" y2="301.4" stroke="#222" stroke-width="0.8" />
<text x="365.7" y="304.7" font-size="8.3" text-anchor="end" fill="#1e1e1e" font-weight="normal" stroke="#1e1e1e" stroke-width="0.22" >1.0</text>
<line x1="367.3" y1="286.22" x2="369.3" y2="286.22" stroke="#222" stroke-width="0.8" />
<text x="365.7" y="289.52" font-size="8.3" text-anchor="end" fill="#1e1e1e" font-weight="normal" stroke="#1e1e1e" stroke-width="0.22" >1.2</text>
<line x1="368.1" y1="369.71" x2="369.3" y2="369.71" stroke="#222" stroke-width="0.6" />
<line x1="368.1" y1="354.53" x2="369.3" y2="354.53" stroke="#222" stroke-width="0.6" />
<line x1="368.1" y1="339.35" x2="369.3" y2="339.35" stroke="#222" stroke-width="0.6" />
<line x1="368.1" y1="324.17" x2="369.3" y2="324.17" stroke="#222" stroke-width="0.6" />
<line x1="368.1" y1="308.99" x2="369.3" y2="308.99" stroke="#222" stroke-width="0.6" />
<line x1="368.1" y1="293.81" x2="369.3" y2="293.81" stroke="#222" stroke-width="0.6" />
<line x1="369.8" y1="377.3" x2="369.8" y2="379.3" stroke="#222" stroke-width="0.8" />
<text x="369.8" y="388.7" font-size="8.3" text-anchor="middle" fill="#1e1e1e" font-weight="normal" stroke="#1e1e1e" stroke-width="0.22" >0.0</text>
<line x1="381.1" y1="377.3" x2="381.1" y2="378.5" stroke="#222" stroke-width="0.6" />
<line x1="392.4" y1="377.3" x2="392.4" y2="379.3" stroke="#222" stroke-width="0.8" />
<text x="392.4" y="388.7" font-size="8.3" text-anchor="middle" fill="#1e1e1e" font-weight="normal" stroke="#1e1e1e" stroke-width="0.22" >0.5</text>
<line x1="403.7" y1="377.3" x2="403.7" y2="378.5" stroke="#222" stroke-width="0.6" />
<line x1="415" y1="377.3" x2="415" y2="379.3" stroke="#222" stroke-width="0.8" />
<text x="415" y="388.7" font-size="8.3" text-anchor="middle" fill="#1e1e1e" font-weight="normal" stroke="#1e1e1e" stroke-width="0.22" >1.0</text>
<line x1="426.3" y1="377.3" x2="426.3" y2="378.5" stroke="#222" stroke-width="0.6" />
<line x1="437.6" y1="377.3" x2="437.6" y2="379.3" stroke="#222" stroke-width="0.8" />
<text x="437.6" y="388.7" font-size="8.3" text-anchor="middle" fill="#1e1e1e" font-weight="normal" stroke="#1e1e1e" stroke-width="0.22" >1.5</text>
<line x1="448.9" y1="377.3" x2="448.9" y2="378.5" stroke="#222" stroke-width="0.6" />
<line x1="460.2" y1="377.3" x2="460.2" y2="379.3" stroke="#222" stroke-width="0.8" />
<text x="460.2" y="388.7" font-size="8.3" text-anchor="middle" fill="#1e1e1e" font-weight="normal" stroke="#1e1e1e" stroke-width="0.22" >2.0</text>
<line x1="471.5" y1="377.3" x2="471.5" y2="378.5" stroke="#222" stroke-width="0.6" />
<line x1="482.8" y1="377.3" x2="482.8" y2="379.3" stroke="#222" stroke-width="0.8" />
<text x="482.8" y="388.7" font-size="8.3" text-anchor="middle" fill="#1e1e1e" font-weight="normal" stroke="#1e1e1e" stroke-width="0.22" >2.5</text>
<line x1="494.1" y1="377.3" x2="494.1" y2="378.5" stroke="#222" stroke-width="0.6" />
<line x1="505.4" y1="377.3" x2="505.4" y2="379.3" stroke="#222" stroke-width="0.8" />
<text x="505.4" y="388.7" font-size="8.3" text-anchor="middle" fill="#1e1e1e" font-weight="normal" stroke="#1e1e1e" stroke-width="0.22" >3.0</text>
<text x="352.8" y="331.2" font-size="8.6" text-anchor="middle" fill="#1e1e1e" font-weight="normal" stroke="#1e1e1e" stroke-width="0.22" transform="rotate(-90 352.8 331.2)" >Relative TET2 activity</text>
<text x="438" y="401.4" font-size="8.6" text-anchor="middle" fill="#1e1e1e" font-weight="normal" stroke="#1e1e1e" stroke-width="0.22" >Log[TETi76], μmol/L</text>
<path d="M369.8,303.02 L370.7,303.05 L371.61,303.07 L372.51,303.1 L373.42,303.13 L374.32,303.16 L375.22,303.19 L376.13,303.22 L377.03,303.25 L377.94,303.28 L378.84,303.32 L379.74,303.36 L380.65,303.4 L381.55,303.44 L382.46,303.48 L383.36,303.53 L384.26,303.58 L385.17,303.63 L386.07,303.68 L386.98,303.73 L387.88,303.79 L388.78,303.85 L389.69,303.92 L390.59,303.98 L391.5,304.05 L392.4,304.12 L393.3,304.2 L394.21,304.28 L395.11,304.36 L396.02,304.45 L396.92,304.54 L397.82,304.64 L398.73,304.74 L399.63,304.84 L400.54,304.95 L401.44,305.07 L402.34,305.19 L403.25,305.31 L404.15,305.44 L405.06,305.58 L405.96,305.72 L406.86,305.87 L407.77,306.03 L408.67,306.19 L409.58,306.36 L410.48,306.54 L411.38,306.72 L412.29,306.91 L413.19,307.12 L414.1,307.33 L415,307.55 L415.9,307.77 L416.81,308.01 L417.71,308.26 L418.62,308.52 L419.52,308.79 L420.42,309.07 L421.33,309.36 L422.23,309.66 L423.14,309.98 L424.04,310.3 L424.94,310.64 L425.85,310.99 L426.75,311.36 L427.66,311.74 L428.56,312.13 L429.46,312.54 L430.37,312.96 L431.27,313.4 L432.18,313.85 L433.08,314.32 L433.98,314.8 L434.89,315.3 L435.79,315.82 L436.7,316.35 L437.6,316.9 L438.5,317.46 L439.41,318.04 L440.31,318.64 L441.22,319.25 L442.12,319.88 L443.02,320.53 L443.93,321.19 L444.83,321.87 L445.74,322.56 L446.64,323.27 L447.54,324 L448.45,324.74 L449.35,325.49 L450.26,326.26 L451.16,327.04 L452.06,327.84 L452.97,328.64 L453.87,329.46 L454.78,330.29 L455.68,331.13 L456.58,331.99 L457.49,332.84 L458.39,333.71 L459.3,334.58 L460.2,335.46 L461.1,336.35 L462.01,337.24 L462.91,338.13 L463.82,339.02 L464.72,339.92 L465.62,340.81 L466.53,341.71 L467.43,342.6 L468.34,343.49 L469.24,344.37 L470.14,345.25 L471.05,346.13 L471.95,346.99 L472.86,347.85 L473.76,348.7 L474.66,349.54 L475.57,350.37 L476.47,351.19 L477.38,352 L478.28,352.8 L479.18,353.58 L480.09,354.35 L480.99,355.1 L481.9,355.84 L482.8,356.57 L483.7,357.28 L484.61,357.97 L485.51,358.65 L486.42,359.31 L487.32,359.96 L488.22,360.59 L489.13,361.2 L490.03,361.8 L490.94,362.38 L491.84,362.94 L492.74,363.49 L493.65,364.02 L494.55,364.54 L495.46,365.04 L496.36,365.52 L497.26,365.99 L498.17,366.44 L499.07,366.88 L499.98,367.3 L500.88,367.71 L501.78,368.1 L502.69,368.48 L503.59,368.84 L504.5,369.2 L505.4,369.54" stroke="#a04a30" stroke-width="1.2" fill="none" />
<path d="M369.8,302.7 L370.7,302.72 L371.61,302.75 L372.51,302.78 L373.42,302.81 L374.32,302.84 L375.22,302.87 L376.13,302.91 L377.03,302.94 L377.94,302.98 L378.84,303.02 L379.74,303.06 L380.65,303.11 L381.55,303.15 L382.46,303.2 L383.36,303.25 L384.26,303.31 L385.17,303.36 L386.07,303.42 L386.98,303.48 L387.88,303.54 L388.78,303.61 L389.69,303.68 L390.59,303.75 L391.5,303.83 L392.4,303.91 L393.3,303.99 L394.21,304.08 L395.11,304.17 L396.02,304.27 L396.92,304.37 L397.82,304.47 L398.73,304.58 L399.63,304.7 L400.54,304.82 L401.44,304.95 L402.34,305.08 L403.25,305.21 L404.15,305.36 L405.06,305.51 L405.96,305.66 L406.86,305.83 L407.77,306 L408.67,306.18 L409.58,306.36 L410.48,306.56 L411.38,306.76 L412.29,306.97 L413.19,307.19 L414.1,307.42 L415,307.66 L415.9,307.91 L416.81,308.17 L417.71,308.44 L418.62,308.72 L419.52,309.01 L420.42,309.32 L421.33,309.63 L422.23,309.96 L423.14,310.3 L424.04,310.66 L424.94,311.03 L425.85,311.41 L426.75,311.8 L427.66,312.21 L428.56,312.64 L429.46,313.08 L430.37,313.53 L431.27,314 L432.18,314.49 L433.08,314.99 L433.98,315.51 L434.89,316.04 L435.79,316.59 L436.7,317.16 L437.6,317.74 L438.5,318.34 L439.41,318.95 L440.31,319.59 L441.22,320.24 L442.12,320.9 L443.02,321.58 L443.93,322.28 L444.83,323 L445.74,323.72 L446.64,324.47 L447.54,325.23 L448.45,326 L449.35,326.79 L450.26,327.59 L451.16,328.4 L452.06,329.22 L452.97,330.06 L453.87,330.9 L454.78,331.76 L455.68,332.62 L456.58,333.49 L457.49,334.37 L458.39,335.25 L459.3,336.14 L460.2,337.04 L461.1,337.93 L462.01,338.83 L462.91,339.73 L463.82,340.63 L464.72,341.53 L465.62,342.42 L466.53,343.32 L467.43,344.21 L468.34,345.09 L469.24,345.97 L470.14,346.84 L471.05,347.7 L471.95,348.56 L472.86,349.4 L473.76,350.24 L474.66,351.06 L475.57,351.87 L476.47,352.67 L477.38,353.46 L478.28,354.23 L479.18,354.99 L480.09,355.73 L480.99,356.46 L481.9,357.18 L482.8,357.87 L483.7,358.56 L484.61,359.22 L485.51,359.87 L486.42,360.5 L487.32,361.12 L488.22,361.72 L489.13,362.3 L490.03,362.87 L490.94,363.42 L491.84,363.95 L492.74,364.47 L493.65,364.97 L494.55,365.46 L495.46,365.93 L496.36,366.38 L497.26,366.82 L498.17,367.25 L499.07,367.66 L499.98,368.05 L500.88,368.43 L501.78,368.8 L502.69,369.16 L503.59,369.5 L504.5,369.83 L505.4,370.14" stroke="#c03a2c" stroke-width="1.4" fill="none" />
<path d="M369.8,306.98 L370.7,307.18 L371.61,307.4 L372.51,307.62 L373.42,307.85 L374.32,308.09 L375.22,308.34 L376.13,308.6 L377.03,308.87 L377.94,309.14 L378.84,309.43 L379.74,309.73 L380.65,310.04 L381.55,310.36 L382.46,310.69 L383.36,311.04 L384.26,311.39 L385.17,311.76 L386.07,312.14 L386.98,312.53 L387.88,312.94 L388.78,313.36 L389.69,313.79 L390.59,314.24 L391.5,314.7 L392.4,315.17 L393.3,315.66 L394.21,316.16 L395.11,316.68 L396.02,317.21 L396.92,317.75 L397.82,318.31 L398.73,318.88 L399.63,319.47 L400.54,320.07 L401.44,320.69 L402.34,321.32 L403.25,321.97 L404.15,322.62 L405.06,323.3 L405.96,323.98 L406.86,324.68 L407.77,325.39 L408.67,326.11 L409.58,326.85 L410.48,327.59 L411.38,328.35 L412.29,329.12 L413.19,329.89 L414.1,330.68 L415,331.47 L415.9,332.28 L416.81,333.09 L417.71,333.9 L418.62,334.72 L419.52,335.55 L420.42,336.38 L421.33,337.22 L422.23,338.05 L423.14,338.89 L424.04,339.73 L424.94,340.57 L425.85,341.41 L426.75,342.24 L427.66,343.08 L428.56,343.91 L429.46,344.73 L430.37,345.56 L431.27,346.37 L432.18,347.18 L433.08,347.98 L433.98,348.78 L434.89,349.56 L435.79,350.34 L436.7,351.11 L437.6,351.87 L438.5,352.61 L439.41,353.35 L440.31,354.07 L441.22,354.78 L442.12,355.48 L443.02,356.16 L443.93,356.84 L444.83,357.49 L445.74,358.14 L446.64,358.77 L447.54,359.39 L448.45,359.99 L449.35,360.58 L450.26,361.15 L451.16,361.71 L452.06,362.25 L452.97,362.78 L453.87,363.3 L454.78,363.8 L455.68,364.29 L456.58,364.76 L457.49,365.22 L458.39,365.67 L459.3,366.1 L460.2,366.52 L461.1,366.93 L462.01,367.32 L462.91,367.7 L463.82,368.07 L464.72,368.42 L465.62,368.77 L466.53,369.1 L467.43,369.42 L468.34,369.73 L469.24,370.03 L470.14,370.32 L471.05,370.59 L471.95,370.86 L472.86,371.12 L473.76,371.37 L474.66,371.61 L475.57,371.84 L476.47,372.06 L477.38,372.27 L478.28,372.48 L479.18,372.68 L480.09,372.87 L480.99,373.05 L481.9,373.23 L482.8,373.39 L483.7,373.56 L484.61,373.71 L485.51,373.86 L486.42,374.01 L487.32,374.14 L488.22,374.28 L489.13,374.4 L490.03,374.52 L490.94,374.64 L491.84,374.75 L492.74,374.86 L493.65,374.96 L494.55,375.06 L495.46,375.16 L496.36,375.25 L497.26,375.34 L498.17,375.42 L499.07,375.5 L499.98,375.58 L500.88,375.65 L501.78,375.72 L502.69,375.79 L503.59,375.85 L504.5,375.92 L505.4,375.98" stroke="#d8a850" stroke-width="1.1" fill="none" />
<path d="M369.8,305.73 L370.7,305.92 L371.61,306.11 L372.51,306.31 L373.42,306.52 L374.32,306.74 L375.22,306.96 L376.13,307.2 L377.03,307.44 L377.94,307.69 L378.84,307.96 L379.74,308.23 L380.65,308.51 L381.55,308.81 L382.46,309.11 L383.36,309.42 L384.26,309.75 L385.17,310.09 L386.07,310.44 L386.98,310.8 L387.88,311.17 L388.78,311.56 L389.69,311.96 L390.59,312.37 L391.5,312.8 L392.4,313.24 L393.3,313.69 L394.21,314.16 L395.11,314.64 L396.02,315.13 L396.92,315.64 L397.82,316.17 L398.73,316.71 L399.63,317.26 L400.54,317.83 L401.44,318.41 L402.34,319.01 L403.25,319.62 L404.15,320.24 L405.06,320.88 L405.96,321.54 L406.86,322.21 L407.77,322.89 L408.67,323.58 L409.58,324.29 L410.48,325.01 L411.38,325.74 L412.29,326.49 L413.19,327.24 L414.1,328.01 L415,328.79 L415.9,329.57 L416.81,330.37 L417.71,331.17 L418.62,331.99 L419.52,332.8 L420.42,333.63 L421.33,334.46 L422.23,335.3 L423.14,336.14 L424.04,336.98 L424.94,337.83 L425.85,338.67 L426.75,339.52 L427.66,340.37 L428.56,341.21 L429.46,342.06 L430.37,342.9 L431.27,343.74 L432.18,344.57 L433.08,345.4 L433.98,346.22 L434.89,347.04 L435.79,347.85 L436.7,348.65 L437.6,349.44 L438.5,350.23 L439.41,351 L440.31,351.76 L441.22,352.51 L442.12,353.25 L443.02,353.98 L443.93,354.69 L444.83,355.4 L445.74,356.09 L446.64,356.76 L447.54,357.43 L448.45,358.07 L449.35,358.71 L450.26,359.33 L451.16,359.93 L452.06,360.52 L452.97,361.1 L453.87,361.66 L454.78,362.21 L455.68,362.74 L456.58,363.26 L457.49,363.76 L458.39,364.25 L459.3,364.73 L460.2,365.19 L461.1,365.64 L462.01,366.07 L462.91,366.49 L463.82,366.9 L464.72,367.3 L465.62,367.68 L466.53,368.05 L467.43,368.4 L468.34,368.75 L469.24,369.08 L470.14,369.4 L471.05,369.71 L471.95,370.01 L472.86,370.3 L473.76,370.58 L474.66,370.85 L475.57,371.11 L476.47,371.36 L477.38,371.6 L478.28,371.83 L479.18,372.05 L480.09,372.27 L480.99,372.47 L481.9,372.67 L482.8,372.86 L483.7,373.04 L484.61,373.22 L485.51,373.39 L486.42,373.55 L487.32,373.71 L488.22,373.86 L489.13,374 L490.03,374.14 L490.94,374.27 L491.84,374.4 L492.74,374.52 L493.65,374.64 L494.55,374.75 L495.46,374.86 L496.36,374.96 L497.26,375.06 L498.17,375.16 L499.07,375.25 L499.98,375.33 L500.88,375.42 L501.78,375.5 L502.69,375.58 L503.59,375.65 L504.5,375.72 L505.4,375.79" stroke="#3a4fb0" stroke-width="1.1" fill="none" />
<line x1="392.4" y1="299.12" x2="392.4" y2="305.19" stroke="#9a6a30" stroke-width="0.8" />
<line x1="391.1" y1="299.12" x2="393.7" y2="299.12" stroke="#9a6a30" stroke-width="0.8" />
<line x1="391.1" y1="305.19" x2="393.7" y2="305.19" stroke="#9a6a30" stroke-width="0.8" />
<circle cx="392.4" cy="302.16" r="1.8" fill="none" stroke="#9a6a30" stroke-width="0.9"/>
<line x1="405.96" y1="299.88" x2="405.96" y2="307.47" stroke="#9a6a30" stroke-width="0.8" />
<line x1="404.66" y1="299.88" x2="407.26" y2="299.88" stroke="#9a6a30" stroke-width="0.8" />
<line x1="404.66" y1="307.47" x2="407.26" y2="307.47" stroke="#9a6a30" stroke-width="0.8" />
<circle cx="405.96" cy="303.68" r="1.8" fill="none" stroke="#9a6a30" stroke-width="0.9"/>
<line x1="419.52" y1="301.4" x2="419.52" y2="308.99" stroke="#9a6a30" stroke-width="0.8" />
<line x1="418.22" y1="301.4" x2="420.82" y2="301.4" stroke="#9a6a30" stroke-width="0.8" />
<line x1="418.22" y1="308.99" x2="420.82" y2="308.99" stroke="#9a6a30" stroke-width="0.8" />
<circle cx="419.52" cy="305.19" r="1.8" fill="none" stroke="#9a6a30" stroke-width="0.9"/>
<line x1="433.08" y1="305.95" x2="433.08" y2="313.54" stroke="#9a6a30" stroke-width="0.8" />
<line x1="431.78" y1="305.95" x2="434.38" y2="305.95" stroke="#9a6a30" stroke-width="0.8" />
<line x1="431.78" y1="313.54" x2="434.38" y2="313.54" stroke="#9a6a30" stroke-width="0.8" />
<circle cx="433.08" cy="309.75" r="1.8" fill="none" stroke="#9a6a30" stroke-width="0.9"/>
<line x1="446.64" y1="309.75" x2="446.64" y2="315.82" stroke="#9a6a30" stroke-width="0.8" />
<line x1="445.34" y1="309.75" x2="447.94" y2="309.75" stroke="#9a6a30" stroke-width="0.8" />
<line x1="445.34" y1="315.82" x2="447.94" y2="315.82" stroke="#9a6a30" stroke-width="0.8" />
<circle cx="446.64" cy="312.79" r="1.8" fill="none" stroke="#9a6a30" stroke-width="0.9"/>
<line x1="460.2" y1="332.52" x2="460.2" y2="338.59" stroke="#9a6a30" stroke-width="0.8" />
<line x1="458.9" y1="332.52" x2="461.5" y2="332.52" stroke="#9a6a30" stroke-width="0.8" />
<line x1="458.9" y1="338.59" x2="461.5" y2="338.59" stroke="#9a6a30" stroke-width="0.8" />
<circle cx="460.2" cy="335.56" r="1.8" fill="none" stroke="#9a6a30" stroke-width="0.9"/>
<line x1="392.4" y1="305.95" x2="392.4" y2="312.03" stroke="#efa54a" stroke-width="0.8" />
<line x1="391.1" y1="305.95" x2="393.7" y2="305.95" stroke="#efa54a" stroke-width="0.8" />
<line x1="391.1" y1="312.03" x2="393.7" y2="312.03" stroke="#efa54a" stroke-width="0.8" />
<circle cx="392.4" cy="308.99" r="1.8" fill="none" stroke="#efa54a" stroke-width="0.9"/>
<line x1="405.96" y1="324.93" x2="405.96" y2="335.56" stroke="#efa54a" stroke-width="0.8" />
<line x1="404.66" y1="324.93" x2="407.26" y2="324.93" stroke="#efa54a" stroke-width="0.8" />
<line x1="404.66" y1="335.56" x2="407.26" y2="335.56" stroke="#efa54a" stroke-width="0.8" />
<circle cx="405.96" cy="330.24" r="1.8" fill="none" stroke="#efa54a" stroke-width="0.9"/>
<line x1="419.52" y1="341.63" x2="419.52" y2="349.22" stroke="#efa54a" stroke-width="0.8" />
<line x1="418.22" y1="341.63" x2="420.82" y2="341.63" stroke="#efa54a" stroke-width="0.8" />
<line x1="418.22" y1="349.22" x2="420.82" y2="349.22" stroke="#efa54a" stroke-width="0.8" />
<circle cx="419.52" cy="345.42" r="1.8" fill="none" stroke="#efa54a" stroke-width="0.9"/>
<line x1="433.08" y1="348.46" x2="433.08" y2="354.53" stroke="#efa54a" stroke-width="0.8" />
<line x1="431.78" y1="348.46" x2="434.38" y2="348.46" stroke="#efa54a" stroke-width="0.8" />
<line x1="431.78" y1="354.53" x2="434.38" y2="354.53" stroke="#efa54a" stroke-width="0.8" />
<circle cx="433.08" cy="351.49" r="1.8" fill="none" stroke="#efa54a" stroke-width="0.9"/>
<line x1="446.64" y1="358.32" x2="446.64" y2="362.88" stroke="#efa54a" stroke-width="0.8" />
<line x1="445.34" y1="358.32" x2="447.94" y2="358.32" stroke="#efa54a" stroke-width="0.8" />
<line x1="445.34" y1="362.88" x2="447.94" y2="362.88" stroke="#efa54a" stroke-width="0.8" />
<circle cx="446.64" cy="360.6" r="1.8" fill="none" stroke="#efa54a" stroke-width="0.9"/>
<line x1="460.2" y1="364.4" x2="460.2" y2="367.43" stroke="#efa54a" stroke-width="0.8" />
<line x1="458.9" y1="364.4" x2="461.5" y2="364.4" stroke="#efa54a" stroke-width="0.8" />
<line x1="458.9" y1="367.43" x2="461.5" y2="367.43" stroke="#efa54a" stroke-width="0.8" />
<circle cx="460.2" cy="365.92" r="1.8" fill="none" stroke="#efa54a" stroke-width="0.9"/>
<line x1="392.4" y1="296.85" x2="392.4" y2="312.03" stroke="#3a4fb0" stroke-width="0.8" />
<line x1="391.1" y1="296.85" x2="393.7" y2="296.85" stroke="#3a4fb0" stroke-width="0.8" />
<line x1="391.1" y1="312.03" x2="393.7" y2="312.03" stroke="#3a4fb0" stroke-width="0.8" />
<circle cx="392.4" cy="304.44" r="1.8" fill="none" stroke="#3a4fb0" stroke-width="0.9"/>
<line x1="405.96" y1="315.06" x2="405.96" y2="330.24" stroke="#3a4fb0" stroke-width="0.8" />
<line x1="404.66" y1="315.06" x2="407.26" y2="315.06" stroke="#3a4fb0" stroke-width="0.8" />
<line x1="404.66" y1="330.24" x2="407.26" y2="330.24" stroke="#3a4fb0" stroke-width="0.8" />
<circle cx="405.96" cy="322.65" r="1.8" fill="none" stroke="#3a4fb0" stroke-width="0.9"/>
<line x1="419.52" y1="337.07" x2="419.52" y2="341.63" stroke="#3a4fb0" stroke-width="0.8" />
<line x1="418.22" y1="337.07" x2="420.82" y2="337.07" stroke="#3a4fb0" stroke-width="0.8" />
<line x1="418.22" y1="341.63" x2="420.82" y2="341.63" stroke="#3a4fb0" stroke-width="0.8" />
<circle cx="419.52" cy="339.35" r="1.8" fill="none" stroke="#3a4fb0" stroke-width="0.9"/>
<line x1="433.08" y1="337.07" x2="433.08" y2="346.18" stroke="#3a4fb0" stroke-width="0.8" />
<line x1="431.78" y1="337.07" x2="434.38" y2="337.07" stroke="#3a4fb0" stroke-width="0.8" />
<line x1="431.78" y1="346.18" x2="434.38" y2="346.18" stroke="#3a4fb0" stroke-width="0.8" />
<circle cx="433.08" cy="341.63" r="1.8" fill="none" stroke="#3a4fb0" stroke-width="0.9"/>
<line x1="446.64" y1="347.7" x2="446.64" y2="359.84" stroke="#3a4fb0" stroke-width="0.8" />
<line x1="445.34" y1="347.7" x2="447.94" y2="347.7" stroke="#3a4fb0" stroke-width="0.8" />
<line x1="445.34" y1="359.84" x2="447.94" y2="359.84" stroke="#3a4fb0" stroke-width="0.8" />
<circle cx="446.64" cy="353.77" r="1.8" fill="none" stroke="#3a4fb0" stroke-width="0.9"/>
<line x1="460.2" y1="364.4" x2="460.2" y2="368.95" stroke="#3a4fb0" stroke-width="0.8" />
<line x1="458.9" y1="364.4" x2="461.5" y2="364.4" stroke="#3a4fb0" stroke-width="0.8" />
<line x1="458.9" y1="368.95" x2="461.5" y2="368.95" stroke="#3a4fb0" stroke-width="0.8" />
<circle cx="460.2" cy="366.67" r="1.8" fill="none" stroke="#3a4fb0" stroke-width="0.9"/>
<line x1="473.76" y1="374.26" x2="473.76" y2="375.78" stroke="#3a4fb0" stroke-width="0.8" />
<line x1="472.46" y1="374.26" x2="475.06" y2="374.26" stroke="#3a4fb0" stroke-width="0.8" />
<line x1="472.46" y1="375.78" x2="475.06" y2="375.78" stroke="#3a4fb0" stroke-width="0.8" />
<circle cx="473.76" cy="375.02" r="1.8" fill="none" stroke="#3a4fb0" stroke-width="0.9"/>
<line x1="392.4" y1="294.57" x2="392.4" y2="305.19" stroke="#c8382c" stroke-width="0.8" />
<line x1="391.1" y1="294.57" x2="393.7" y2="294.57" stroke="#c8382c" stroke-width="0.8" />
<line x1="391.1" y1="305.19" x2="393.7" y2="305.19" stroke="#c8382c" stroke-width="0.8" />
<circle cx="392.4" cy="299.88" r="1.8" fill="none" stroke="#c8382c" stroke-width="0.9"/>
<line x1="405.96" y1="294.57" x2="405.96" y2="306.71" stroke="#c8382c" stroke-width="0.8" />
<line x1="404.66" y1="294.57" x2="407.26" y2="294.57" stroke="#c8382c" stroke-width="0.8" />
<line x1="404.66" y1="306.71" x2="407.26" y2="306.71" stroke="#c8382c" stroke-width="0.8" />
<circle cx="405.96" cy="300.64" r="1.8" fill="none" stroke="#c8382c" stroke-width="0.9"/>
<line x1="419.52" y1="293.81" x2="419.52" y2="308.99" stroke="#c8382c" stroke-width="0.8" />
<line x1="418.22" y1="293.81" x2="420.82" y2="293.81" stroke="#c8382c" stroke-width="0.8" />
<line x1="418.22" y1="308.99" x2="420.82" y2="308.99" stroke="#c8382c" stroke-width="0.8" />
<circle cx="419.52" cy="301.4" r="1.8" fill="none" stroke="#c8382c" stroke-width="0.9"/>
<line x1="433.08" y1="297.61" x2="433.08" y2="308.23" stroke="#c8382c" stroke-width="0.8" />
<line x1="431.78" y1="297.61" x2="434.38" y2="297.61" stroke="#c8382c" stroke-width="0.8" />
<line x1="431.78" y1="308.23" x2="434.38" y2="308.23" stroke="#c8382c" stroke-width="0.8" />
<circle cx="433.08" cy="302.92" r="1.8" fill="none" stroke="#c8382c" stroke-width="0.9"/>
<line x1="446.64" y1="307.47" x2="446.64" y2="315.06" stroke="#c8382c" stroke-width="0.8" />
<line x1="445.34" y1="307.47" x2="447.94" y2="307.47" stroke="#c8382c" stroke-width="0.8" />
<line x1="445.34" y1="315.06" x2="447.94" y2="315.06" stroke="#c8382c" stroke-width="0.8" />
<circle cx="446.64" cy="311.27" r="1.8" fill="none" stroke="#c8382c" stroke-width="0.9"/>
<line x1="460.2" y1="329.48" x2="460.2" y2="337.07" stroke="#c8382c" stroke-width="0.8" />
<line x1="458.9" y1="329.48" x2="461.5" y2="329.48" stroke="#c8382c" stroke-width="0.8" />
<line x1="458.9" y1="337.07" x2="461.5" y2="337.07" stroke="#c8382c" stroke-width="0.8" />
<circle cx="460.2" cy="333.28" r="1.8" fill="none" stroke="#c8382c" stroke-width="0.9"/>
<line x1="473.76" y1="359.84" x2="473.76" y2="367.43" stroke="#c8382c" stroke-width="0.8" />
<line x1="472.46" y1="359.84" x2="475.06" y2="359.84" stroke="#c8382c" stroke-width="0.8" />
<line x1="472.46" y1="367.43" x2="475.06" y2="367.43" stroke="#c8382c" stroke-width="0.8" />
<circle cx="473.76" cy="363.64" r="1.8" fill="none" stroke="#c8382c" stroke-width="0.9"/>
<line x1="487.32" y1="375.02" x2="487.32" y2="376.54" stroke="#c8382c" stroke-width="0.8" />
<line x1="486.02" y1="375.02" x2="488.62" y2="375.02" stroke="#c8382c" stroke-width="0.8" />
<line x1="486.02" y1="376.54" x2="488.62" y2="376.54" stroke="#c8382c" stroke-width="0.8" />
<circle cx="487.32" cy="375.78" r="1.8" fill="none" stroke="#c8382c" stroke-width="0.9"/>
<circle cx="369.8" cy="301.4" r="1.8" fill="#2a3a8a" stroke="none" stroke-width="0.6"/>
<text x="447.9" y="290.8" font-size="7.6" text-anchor="start" fill="#1e1e1e" font-weight="normal" stroke="#1e1e1e" stroke-width="0.22" >μmol/L</text>
<text x="475.2" y="290.8" font-size="7.6" text-anchor="start" fill="#1e1e1e" font-weight="normal" stroke="#1e1e1e" stroke-width="0.22" >αKG</text>
<text x="493.2" y="290.8" font-size="7.6" text-anchor="start" fill="#1e1e1e" font-weight="normal" stroke="#1e1e1e" stroke-width="0.22" >Fe<tspan font-size="5" dy="-2.8">2+</tspan></text>
<line x1="458" y1="293" x2="510" y2="293" stroke="#333" stroke-width="0.9" />
<line x1="491.7" y1="282.9" x2="491.7" y2="333" stroke="#333" stroke-width="0.8" />
<circle cx="465.8" cy="297" r="1.4" fill="#f4e4dc" stroke="#c8382c" stroke-width="1.0"/>
<text x="475.3" y="299.6" font-size="7.6" text-anchor="start" fill="#1e1e1e" font-weight="normal" stroke="#1e1e1e" stroke-width="0.22" >100</text>
<text x="493.4" y="299.6" font-size="7.6" text-anchor="start" fill="#1e1e1e" font-weight="normal" stroke="#1e1e1e" stroke-width="0.22" >25</text>
<circle cx="465.8" cy="305.55" r="1.4" fill="#f4e4dc" stroke="#9a6a30" stroke-width="1.0"/>
<text x="475.3" y="308.15" font-size="7.6" text-anchor="start" fill="#1e1e1e" font-weight="normal" stroke="#1e1e1e" stroke-width="0.22" >100</text>
<text x="493.4" y="308.15" font-size="7.6" text-anchor="start" fill="#1e1e1e" font-weight="normal" stroke="#1e1e1e" stroke-width="0.22" >250</text>
<circle cx="465.8" cy="314.1" r="1.4" fill="#f4e4dc" stroke="#3a4fb0" stroke-width="1.0"/>
<text x="475.3" y="316.7" font-size="7.6" text-anchor="start" fill="#1e1e1e" font-weight="normal" stroke="#1e1e1e" stroke-width="0.22" >10</text>
<text x="493.4" y="316.7" font-size="7.6" text-anchor="start" fill="#1e1e1e" font-weight="normal" stroke="#1e1e1e" stroke-width="0.22" >25</text>
<circle cx="465.8" cy="322.65" r="1.4" fill="#f4e4dc" stroke="#efa54a" stroke-width="1.0"/>
<text x="475.3" y="325.25" font-size="7.6" text-anchor="start" fill="#1e1e1e" font-weight="normal" stroke="#1e1e1e" stroke-width="0.22" >10</text>
<text x="493.4" y="325.25" font-size="7.6" text-anchor="start" fill="#1e1e1e" font-weight="normal" stroke="#1e1e1e" stroke-width="0.22" >250</text>
<line x1="50.8" y1="412.5" x2="50.8" y2="528.2" stroke="#222" stroke-width="0.9" />
<line x1="50.4" y1="527.8" x2="169.15" y2="527.8" stroke="#222" stroke-width="0.9" />
<line x1="48.8" y1="518.8" x2="50.8" y2="518.8" stroke="#222" stroke-width="0.8" />
<text x="46.4" y="521.9" font-size="8.6" text-anchor="end" fill="#1e1e1e" font-weight="normal" stroke="#1e1e1e" stroke-width="0.22" >0.0</text>
<line x1="49.6" y1="505.52" x2="50.8" y2="505.52" stroke="#222" stroke-width="0.6" />
<line x1="48.8" y1="492.25" x2="50.8" y2="492.25" stroke="#222" stroke-width="0.8" />
<text x="46.4" y="495.35" font-size="8.6" text-anchor="end" fill="#1e1e1e" font-weight="normal" stroke="#1e1e1e" stroke-width="0.22" >0.3</text>
<line x1="49.6" y1="478.97" x2="50.8" y2="478.97" stroke="#222" stroke-width="0.6" />
<line x1="48.8" y1="465.7" x2="50.8" y2="465.7" stroke="#222" stroke-width="0.8" />
<text x="46.4" y="468.8" font-size="8.6" text-anchor="end" fill="#1e1e1e" font-weight="normal" stroke="#1e1e1e" stroke-width="0.22" >0.6</text>
<line x1="49.6" y1="452.42" x2="50.8" y2="452.42" stroke="#222" stroke-width="0.6" />
<line x1="48.8" y1="439.15" x2="50.8" y2="439.15" stroke="#222" stroke-width="0.8" />
<text x="46.4" y="442.25" font-size="8.6" text-anchor="end" fill="#1e1e1e" font-weight="normal" stroke="#1e1e1e" stroke-width="0.22" >0.9</text>
<line x1="49.6" y1="425.88" x2="50.8" y2="425.88" stroke="#222" stroke-width="0.6" />
<line x1="48.8" y1="412.6" x2="50.8" y2="412.6" stroke="#222" stroke-width="0.8" />
<text x="46.4" y="415.7" font-size="8.6" text-anchor="end" fill="#1e1e1e" font-weight="normal" stroke="#1e1e1e" stroke-width="0.22" >1.2</text>
<line x1="60" y1="527.8" x2="60" y2="529.8" stroke="#222" stroke-width="0.8" />
<text x="57.6" y="540" font-size="8.6" text-anchor="middle" fill="#1e1e1e" font-weight="normal" stroke="#1e1e1e" stroke-width="0.22" >−2</text>
<line x1="96.25" y1="527.8" x2="96.25" y2="529.8" stroke="#222" stroke-width="0.8" />
<text x="96.25" y="540" font-size="8.6" text-anchor="middle" fill="#1e1e1e" font-weight="normal" stroke="#1e1e1e" stroke-width="0.22" >0</text>
<line x1="132.5" y1="527.8" x2="132.5" y2="529.8" stroke="#222" stroke-width="0.8" />
<text x="132.5" y="540" font-size="8.6" text-anchor="middle" fill="#1e1e1e" font-weight="normal" stroke="#1e1e1e" stroke-width="0.22" >2</text>
<line x1="168.75" y1="527.8" x2="168.75" y2="529.8" stroke="#222" stroke-width="0.8" />
<text x="168.75" y="540" font-size="8.6" text-anchor="middle" fill="#1e1e1e" font-weight="normal" stroke="#1e1e1e" stroke-width="0.22" >4</text>
<line x1="78.12" y1="527.8" x2="78.12" y2="529" stroke="#222" stroke-width="0.6" />
<line x1="114.38" y1="527.8" x2="114.38" y2="529" stroke="#222" stroke-width="0.6" />
<line x1="150.62" y1="527.8" x2="150.62" y2="529" stroke="#222" stroke-width="0.6" />
<text x="21.6" y="470.5" font-size="8.8" text-anchor="middle" fill="#1e1e1e" font-weight="normal" stroke="#1e1e1e" stroke-width="0.22" transform="rotate(-90 21.6 470.5)" >Δ<tspan font-style="italic">F</tspan><tspan font-size="6" dy="1.9">norm</tspan></text>
<text x="110.6" y="556.2" font-size="8.75" text-anchor="middle" fill="#1e1e1e" font-weight="normal" stroke="#1e1e1e" stroke-width="0.22" >Log[TETi76], μmol/L</text>
<text x="82.3" y="518.9" font-size="8.2" text-anchor="start" fill="#1e1e1e" font-weight="normal" stroke="#1e1e1e" stroke-width="0.22" >Kd = 0.3±0.1 μmol/L</text>
<path d="M58.19,518.26 L58.73,518.21 L59.27,518.15 L59.82,518.09 L60.36,518.03 L60.91,517.96 L61.45,517.88 L61.99,517.79 L62.54,517.7 L63.08,517.6 L63.62,517.49 L64.17,517.36 L64.71,517.23 L65.26,517.09 L65.8,516.93 L66.34,516.76 L66.89,516.57 L67.43,516.37 L67.97,516.15 L68.52,515.91 L69.06,515.65 L69.61,515.37 L70.15,515.06 L70.69,514.73 L71.24,514.37 L71.78,513.98 L72.33,513.56 L72.87,513.1 L73.41,512.61 L73.96,512.08 L74.5,511.51 L75.04,510.9 L75.59,510.24 L76.13,509.53 L76.67,508.77 L77.22,507.97 L77.76,507.11 L78.31,506.19 L78.85,505.22 L79.39,504.18 L79.94,503.09 L80.48,501.95 L81.03,500.74 L81.57,499.47 L82.11,498.15 L82.66,496.77 L83.2,495.34 L83.74,493.86 L84.29,492.33 L84.83,490.76 L85.38,489.15 L85.92,487.51 L86.46,485.84 L87.01,484.15 L87.55,482.45 L88.09,480.74 L88.64,479.04 L89.18,477.34 L89.72,475.65 L90.27,473.98 L90.81,472.34 L91.36,470.73 L91.9,469.16 L92.44,467.63 L92.99,466.15 L93.53,464.72 L94.08,463.34 L94.62,462.02 L95.16,460.75 L95.71,459.54 L96.25,458.4 L96.79,457.31 L97.34,456.27 L97.88,455.3 L98.42,454.38 L98.97,453.52 L99.51,452.72 L100.06,451.96 L100.6,451.25 L101.14,450.59 L101.69,449.98 L102.23,449.41 L102.77,448.88 L103.32,448.39 L103.86,447.93 L104.41,447.51 L104.95,447.12 L105.49,446.76 L106.04,446.43 L106.58,446.12 L107.12,445.84 L107.67,445.58 L108.21,445.34 L108.76,445.12 L109.3,444.92 L109.84,444.73 L110.39,444.56 L110.93,444.4 L111.47,444.26 L112.02,444.13 L112.56,444 L113.11,443.89 L113.65,443.79 L114.19,443.7 L114.74,443.61 L115.28,443.53 L115.82,443.46 L116.37,443.4 L116.91,443.34 L117.46,443.28 L118,443.23 L118.54,443.19 L119.09,443.14 L119.63,443.1 L120.17,443.07 L120.72,443.04 L121.26,443.01 L121.81,442.98 L122.35,442.95 L122.89,442.93 L123.44,442.91 L123.98,442.89 L124.52,442.88 L125.07,442.86 L125.61,442.84 L126.16,442.83 L126.7,442.82 L127.24,442.81 L127.79,442.8 L128.33,442.79 L128.88,442.78 L129.42,442.77 L129.96,442.77 L130.51,442.76 L131.05,442.75 L131.59,442.75 L132.14,442.74 L132.68,442.74 L133.22,442.73 L133.77,442.73 L134.31,442.73 L134.86,442.72 L135.4,442.72 L135.94,442.72 L136.49,442.72 L137.03,442.71 L137.57,442.71 L138.12,442.71 L138.66,442.71 L139.21,442.71 L139.75,442.71 L140.29,442.7 L140.84,442.7 L141.38,442.7 L141.93,442.7 L142.47,442.7 L143.01,442.7 L143.56,442.7 L144.1,442.7 L144.64,442.7 L145.19,442.7" stroke="#222" stroke-width="0.9" fill="none" />
<circle cx="57.82" cy="518.8" r="1.95" fill="#fff" stroke="#222" stroke-width="0.85"/>
<circle cx="63.44" cy="517.56" r="1.95" fill="#fff" stroke="#222" stroke-width="0.85"/>
<circle cx="69.24" cy="518.8" r="1.95" fill="#fff" stroke="#222" stroke-width="0.85"/>
<circle cx="74.68" cy="517.03" r="1.95" fill="#fff" stroke="#222" stroke-width="0.85"/>
<line x1="79.58" y1="487.38" x2="79.58" y2="494.46" stroke="#222" stroke-width="0.8" />
<line x1="78.08" y1="487.38" x2="81.08" y2="487.38" stroke="#222" stroke-width="0.8" />
<line x1="78.08" y1="494.46" x2="81.08" y2="494.46" stroke="#222" stroke-width="0.8" />
<circle cx="79.58" cy="490.92" r="1.95" fill="#fff" stroke="#222" stroke-width="0.85"/>
<line x1="85.74" y1="491.72" x2="85.74" y2="498.8" stroke="#222" stroke-width="0.8" />
<line x1="84.24" y1="491.72" x2="87.24" y2="491.72" stroke="#222" stroke-width="0.8" />
<line x1="84.24" y1="498.8" x2="87.24" y2="498.8" stroke="#222" stroke-width="0.8" />
<circle cx="85.74" cy="495.26" r="1.95" fill="#fff" stroke="#222" stroke-width="0.85"/>
<line x1="90.81" y1="451.36" x2="90.81" y2="472.6" stroke="#222" stroke-width="0.8" />
<line x1="89.31" y1="451.36" x2="92.31" y2="451.36" stroke="#222" stroke-width="0.8" />
<line x1="89.31" y1="472.6" x2="92.31" y2="472.6" stroke="#222" stroke-width="0.8" />
<circle cx="90.81" cy="461.98" r="1.95" fill="#fff" stroke="#222" stroke-width="0.85"/>
<line x1="96.5" y1="456.14" x2="96.5" y2="470.3" stroke="#222" stroke-width="0.8" />
<line x1="95" y1="456.14" x2="98" y2="456.14" stroke="#222" stroke-width="0.8" />
<line x1="95" y1="470.3" x2="98" y2="470.3" stroke="#222" stroke-width="0.8" />
<circle cx="96.5" cy="463.22" r="1.95" fill="#fff" stroke="#222" stroke-width="0.85"/>
<line x1="101.87" y1="445.79" x2="101.87" y2="467.91" stroke="#222" stroke-width="0.8" />
<line x1="100.37" y1="445.79" x2="103.37" y2="445.79" stroke="#222" stroke-width="0.8" />
<line x1="100.37" y1="467.91" x2="103.37" y2="467.91" stroke="#222" stroke-width="0.8" />
<circle cx="101.87" cy="456.85" r="1.95" fill="#fff" stroke="#222" stroke-width="0.85"/>
<line x1="107.31" y1="447.11" x2="107.31" y2="470.12" stroke="#222" stroke-width="0.8" />
<line x1="105.81" y1="447.11" x2="108.81" y2="447.11" stroke="#222" stroke-width="0.8" />
<line x1="105.81" y1="470.12" x2="108.81" y2="470.12" stroke="#222" stroke-width="0.8" />
<circle cx="107.31" cy="458.62" r="1.95" fill="#fff" stroke="#222" stroke-width="0.85"/>
<line x1="112.74" y1="439.15" x2="112.74" y2="460.39" stroke="#222" stroke-width="0.8" />
<line x1="111.24" y1="439.15" x2="114.24" y2="439.15" stroke="#222" stroke-width="0.8" />
<line x1="111.24" y1="460.39" x2="114.24" y2="460.39" stroke="#222" stroke-width="0.8" />
<circle cx="112.74" cy="449.77" r="1.95" fill="#fff" stroke="#222" stroke-width="0.85"/>
<line x1="118" y1="440.92" x2="118" y2="462.16" stroke="#222" stroke-width="0.8" />
<line x1="116.5" y1="440.92" x2="119.5" y2="440.92" stroke="#222" stroke-width="0.8" />
<line x1="116.5" y1="462.16" x2="119.5" y2="462.16" stroke="#222" stroke-width="0.8" />
<circle cx="118" cy="451.54" r="1.95" fill="#fff" stroke="#222" stroke-width="0.85"/>
<line x1="123.8" y1="420.56" x2="123.8" y2="443.57" stroke="#222" stroke-width="0.8" />
<line x1="122.3" y1="420.56" x2="125.3" y2="420.56" stroke="#222" stroke-width="0.8" />
<line x1="122.3" y1="443.57" x2="125.3" y2="443.57" stroke="#222" stroke-width="0.8" />
<circle cx="123.8" cy="432.07" r="1.95" fill="#fff" stroke="#222" stroke-width="0.85"/>
<line x1="129.24" y1="417.02" x2="129.24" y2="443.57" stroke="#222" stroke-width="0.8" />
<line x1="127.74" y1="417.02" x2="130.74" y2="417.02" stroke="#222" stroke-width="0.8" />
<line x1="127.74" y1="443.57" x2="130.74" y2="443.57" stroke="#222" stroke-width="0.8" />
<circle cx="129.24" cy="430.3" r="1.95" fill="#fff" stroke="#222" stroke-width="0.85"/>
<line x1="134.49" y1="412.6" x2="134.49" y2="439.15" stroke="#222" stroke-width="0.8" />
<line x1="132.99" y1="412.6" x2="135.99" y2="412.6" stroke="#222" stroke-width="0.8" />
<line x1="132.99" y1="439.15" x2="135.99" y2="439.15" stroke="#222" stroke-width="0.8" />
<circle cx="134.49" cy="425.87" r="1.95" fill="#fff" stroke="#222" stroke-width="0.85"/>
<line x1="140.47" y1="424.99" x2="140.47" y2="456.85" stroke="#222" stroke-width="0.8" />
<line x1="138.97" y1="424.99" x2="141.97" y2="424.99" stroke="#222" stroke-width="0.8" />
<line x1="138.97" y1="456.85" x2="141.97" y2="456.85" stroke="#222" stroke-width="0.8" />
<circle cx="140.47" cy="440.92" r="1.95" fill="#fff" stroke="#222" stroke-width="0.85"/>
<line x1="145.73" y1="436.49" x2="145.73" y2="455.96" stroke="#222" stroke-width="0.8" />
<line x1="144.23" y1="436.49" x2="147.23" y2="436.49" stroke="#222" stroke-width="0.8" />
<line x1="144.23" y1="455.96" x2="147.23" y2="455.96" stroke="#222" stroke-width="0.8" />
<circle cx="145.73" cy="446.23" r="1.95" fill="#fff" stroke="#222" stroke-width="0.85"/>
<line x1="224.6" y1="413.2" x2="224.6" y2="518.7" stroke="#222" stroke-width="0.9" />
<line x1="224.2" y1="518.3" x2="471" y2="518.3" stroke="#222" stroke-width="0.9" />
<line x1="222.6" y1="518.3" x2="224.6" y2="518.3" stroke="#222" stroke-width="0.8" />
<text x="221" y="521.3" font-size="8" text-anchor="end" fill="#1e1e1e" font-weight="normal" stroke="#1e1e1e" stroke-width="0.22" >0</text>
<line x1="222.6" y1="499.2" x2="224.6" y2="499.2" stroke="#222" stroke-width="0.8" />
<text x="221" y="502.2" font-size="8" text-anchor="end" fill="#1e1e1e" font-weight="normal" stroke="#1e1e1e" stroke-width="0.22" >20</text>
<line x1="222.6" y1="480.1" x2="224.6" y2="480.1" stroke="#222" stroke-width="0.8" />
<text x="221" y="483.1" font-size="8" text-anchor="end" fill="#1e1e1e" font-weight="normal" stroke="#1e1e1e" stroke-width="0.22" >40</text>
<line x1="222.6" y1="461" x2="224.6" y2="461" stroke="#222" stroke-width="0.8" />
<text x="221" y="464" font-size="8" text-anchor="end" fill="#1e1e1e" font-weight="normal" stroke="#1e1e1e" stroke-width="0.22" >60</text>
<line x1="222.6" y1="441.9" x2="224.6" y2="441.9" stroke="#222" stroke-width="0.8" />
<text x="221" y="444.9" font-size="8" text-anchor="end" fill="#1e1e1e" font-weight="normal" stroke="#1e1e1e" stroke-width="0.22" >80</text>
<line x1="222.6" y1="422.8" x2="224.6" y2="422.8" stroke="#222" stroke-width="0.8" />
<text x="221" y="425.8" font-size="8" text-anchor="end" fill="#1e1e1e" font-weight="normal" stroke="#1e1e1e" stroke-width="0.22" >100</text>
<line x1="223.4" y1="508.75" x2="224.6" y2="508.75" stroke="#222" stroke-width="0.6" />
<line x1="223.4" y1="489.65" x2="224.6" y2="489.65" stroke="#222" stroke-width="0.6" />
<line x1="223.4" y1="470.55" x2="224.6" y2="470.55" stroke="#222" stroke-width="0.6" />
<line x1="223.4" y1="451.45" x2="224.6" y2="451.45" stroke="#222" stroke-width="0.6" />
<line x1="223.4" y1="432.35" x2="224.6" y2="432.35" stroke="#222" stroke-width="0.6" />
<line x1="223.4" y1="413.25" x2="224.6" y2="413.25" stroke="#222" stroke-width="0.6" />
<text x="204.3" y="464.5" font-size="9" text-anchor="middle" fill="#1e1e1e" font-weight="normal" stroke="#1e1e1e" stroke-width="0.22" transform="rotate(-90 204.3 464.5)" >Relative activity, %</text>
<rect x="231.05" y="420.89" width="7.1" height="97.41" fill="#d9d9d9" stroke="#303030" stroke-width="1.0" />
<circle cx="232" cy="420.6" r="1.25" fill="#111" stroke="none" stroke-width="0.6"/>
<circle cx="234.6" cy="420.6" r="1.25" fill="#111" stroke="none" stroke-width="0.6"/>
<circle cx="237.2" cy="420.6" r="1.25" fill="#111" stroke="none" stroke-width="0.6"/>
<line x1="234.6" y1="518.3" x2="234.6" y2="520.1" stroke="#222" stroke-width="0.8" />
<text x="237.2" y="528.3" font-size="8.5" text-anchor="end" fill="#1e1e1e" font-weight="normal" stroke="#1e1e1e" stroke-width="0.22" transform="rotate(-45 237.2 528.3)" >FTO</text>
<rect x="243.59" y="422.32" width="7.1" height="95.98" fill="#d9d9d9" stroke="#303030" stroke-width="1.0" />
<line x1="247.14" y1="420.75" x2="247.14" y2="423.9" stroke="#111" stroke-width="0.8" />
<line x1="245.64" y1="420.75" x2="248.64" y2="420.75" stroke="#111" stroke-width="0.8" />
<line x1="245.64" y1="423.9" x2="248.64" y2="423.9" stroke="#111" stroke-width="0.8" />
<circle cx="247.14" cy="423.75" r="1.3" fill="#111" stroke="none" stroke-width="0.6"/>
<circle cx="247.14" cy="422.32" r="1.3" fill="#111" stroke="none" stroke-width="0.6"/>
<circle cx="247.14" cy="420.89" r="1.3" fill="#111" stroke="none" stroke-width="0.6"/>
<line x1="247.14" y1="518.3" x2="247.14" y2="520.1" stroke="#222" stroke-width="0.8" />
<text x="249.74" y="528.3" font-size="8.5" text-anchor="end" fill="#1e1e1e" font-weight="normal" stroke="#1e1e1e" stroke-width="0.22" transform="rotate(-45 249.74 528.3)" >FBXL10</text>
<rect x="256.13" y="423.56" width="7.1" height="94.74" fill="#d9d9d9" stroke="#303030" stroke-width="1.0" />
<circle cx="257.08" cy="423.28" r="1.25" fill="#111" stroke="none" stroke-width="0.6"/>
<circle cx="259.68" cy="423.28" r="1.25" fill="#111" stroke="none" stroke-width="0.6"/>
<circle cx="262.28" cy="423.28" r="1.25" fill="#111" stroke="none" stroke-width="0.6"/>
<line x1="259.68" y1="518.3" x2="259.68" y2="520.1" stroke="#222" stroke-width="0.8" />
<text x="262.28" y="528.3" font-size="8.5" text-anchor="end" fill="#1e1e1e" font-weight="normal" stroke="#1e1e1e" stroke-width="0.22" transform="rotate(-45 262.28 528.3)" >ALKBH5</text>
<rect x="268.67" y="424.71" width="7.1" height="93.59" fill="#d9d9d9" stroke="#303030" stroke-width="1.0" />
<line x1="272.22" y1="420.51" x2="272.22" y2="428.91" stroke="#111" stroke-width="0.8" />
<line x1="270.72" y1="420.51" x2="273.72" y2="420.51" stroke="#111" stroke-width="0.8" />
<line x1="270.72" y1="428.91" x2="273.72" y2="428.91" stroke="#111" stroke-width="0.8" />
<circle cx="272.22" cy="428.53" r="1.3" fill="#111" stroke="none" stroke-width="0.6"/>
<circle cx="272.22" cy="424.71" r="1.3" fill="#111" stroke="none" stroke-width="0.6"/>
<circle cx="272.22" cy="420.89" r="1.3" fill="#111" stroke="none" stroke-width="0.6"/>
<line x1="272.22" y1="518.3" x2="272.22" y2="520.1" stroke="#222" stroke-width="0.8" />
<text x="274.82" y="528.3" font-size="8.5" text-anchor="end" fill="#1e1e1e" font-weight="normal" stroke="#1e1e1e" stroke-width="0.22" transform="rotate(-45 274.82 528.3)" >Jarid1A</text>
<rect x="281.21" y="425.19" width="7.1" height="93.11" fill="#d9d9d9" stroke="#303030" stroke-width="1.0" />
<line x1="284.76" y1="422.04" x2="284.76" y2="428.34" stroke="#111" stroke-width="0.8" />
<line x1="283.26" y1="422.04" x2="286.26" y2="422.04" stroke="#111" stroke-width="0.8" />
<line x1="283.26" y1="428.34" x2="286.26" y2="428.34" stroke="#111" stroke-width="0.8" />
<circle cx="284.76" cy="428.05" r="1.3" fill="#111" stroke="none" stroke-width="0.6"/>
<circle cx="284.76" cy="425.19" r="1.3" fill="#111" stroke="none" stroke-width="0.6"/>
<circle cx="284.76" cy="422.32" r="1.3" fill="#111" stroke="none" stroke-width="0.6"/>
<line x1="284.76" y1="518.3" x2="284.76" y2="520.1" stroke="#222" stroke-width="0.8" />
<text x="287.36" y="528.3" font-size="8.5" text-anchor="end" fill="#1e1e1e" font-weight="normal" stroke="#1e1e1e" stroke-width="0.22" transform="rotate(-45 287.36 528.3)" >JMJD2A</text>
<rect x="293.75" y="425.19" width="7.1" height="93.11" fill="#d9d9d9" stroke="#303030" stroke-width="1.0" />
<circle cx="294.7" cy="424.9" r="1.25" fill="#111" stroke="none" stroke-width="0.6"/>
<circle cx="297.3" cy="424.9" r="1.25" fill="#111" stroke="none" stroke-width="0.6"/>
<circle cx="299.9" cy="424.9" r="1.25" fill="#111" stroke="none" stroke-width="0.6"/>
<line x1="297.3" y1="518.3" x2="297.3" y2="520.1" stroke="#222" stroke-width="0.8" />
<text x="299.9" y="528.3" font-size="8.5" text-anchor="end" fill="#1e1e1e" font-weight="normal" stroke="#1e1e1e" stroke-width="0.22" transform="rotate(-45 299.9 528.3)" >Jarid1B</text>
<rect x="306.29" y="425.66" width="7.1" height="92.63" fill="#d9d9d9" stroke="#303030" stroke-width="1.0" />
<line x1="309.84" y1="421.46" x2="309.84" y2="429.87" stroke="#111" stroke-width="0.8" />
<line x1="308.34" y1="421.46" x2="311.34" y2="421.46" stroke="#111" stroke-width="0.8" />
<line x1="308.34" y1="429.87" x2="311.34" y2="429.87" stroke="#111" stroke-width="0.8" />
<circle cx="309.84" cy="429.48" r="1.3" fill="#111" stroke="none" stroke-width="0.6"/>
<circle cx="309.84" cy="425.66" r="1.3" fill="#111" stroke="none" stroke-width="0.6"/>
<circle cx="309.84" cy="421.84" r="1.3" fill="#111" stroke="none" stroke-width="0.6"/>
<line x1="309.84" y1="518.3" x2="309.84" y2="520.1" stroke="#222" stroke-width="0.8" />
<text x="312.44" y="528.3" font-size="8.5" text-anchor="end" fill="#1e1e1e" font-weight="normal" stroke="#1e1e1e" stroke-width="0.22" transform="rotate(-45 312.44 528.3)" >JMJD1B</text>
<rect x="318.83" y="427.1" width="7.1" height="91.2" fill="#d9d9d9" stroke="#303030" stroke-width="1.0" />
<circle cx="319.78" cy="426.81" r="1.25" fill="#111" stroke="none" stroke-width="0.6"/>
<circle cx="322.38" cy="426.81" r="1.25" fill="#111" stroke="none" stroke-width="0.6"/>
<circle cx="324.98" cy="426.81" r="1.25" fill="#111" stroke="none" stroke-width="0.6"/>
<line x1="322.38" y1="518.3" x2="322.38" y2="520.1" stroke="#222" stroke-width="0.8" />
<text x="324.98" y="528.3" font-size="8.5" text-anchor="end" fill="#1e1e1e" font-weight="normal" stroke="#1e1e1e" stroke-width="0.22" transform="rotate(-45 324.98 528.3)" >JMJD3</text>
<rect x="331.37" y="427.57" width="7.1" height="90.72" fill="#d9d9d9" stroke="#303030" stroke-width="1.0" />
<line x1="334.92" y1="424.42" x2="334.92" y2="430.73" stroke="#111" stroke-width="0.8" />
<line x1="333.42" y1="424.42" x2="336.42" y2="424.42" stroke="#111" stroke-width="0.8" />
<line x1="333.42" y1="430.73" x2="336.42" y2="430.73" stroke="#111" stroke-width="0.8" />
<circle cx="334.92" cy="430.44" r="1.3" fill="#111" stroke="none" stroke-width="0.6"/>
<circle cx="334.92" cy="427.57" r="1.3" fill="#111" stroke="none" stroke-width="0.6"/>
<circle cx="334.92" cy="424.71" r="1.3" fill="#111" stroke="none" stroke-width="0.6"/>
<line x1="334.92" y1="518.3" x2="334.92" y2="520.1" stroke="#222" stroke-width="0.8" />
<text x="337.52" y="528.3" font-size="8.5" text-anchor="end" fill="#1e1e1e" font-weight="normal" stroke="#1e1e1e" stroke-width="0.22" transform="rotate(-45 337.52 528.3)" >PHF8</text>
<rect x="343.91" y="430.44" width="7.1" height="87.86" fill="#d9d9d9" stroke="#303030" stroke-width="1.0" />
<line x1="347.46" y1="428.86" x2="347.46" y2="432.02" stroke="#111" stroke-width="0.8" />
<line x1="345.96" y1="428.86" x2="348.96" y2="428.86" stroke="#111" stroke-width="0.8" />
<line x1="345.96" y1="432.02" x2="348.96" y2="432.02" stroke="#111" stroke-width="0.8" />
<circle cx="347.46" cy="431.87" r="1.3" fill="#111" stroke="none" stroke-width="0.6"/>
<circle cx="347.46" cy="430.44" r="1.3" fill="#111" stroke="none" stroke-width="0.6"/>
<circle cx="347.46" cy="429.01" r="1.3" fill="#111" stroke="none" stroke-width="0.6"/>
<line x1="347.46" y1="518.3" x2="347.46" y2="520.1" stroke="#222" stroke-width="0.8" />
<text x="350.06" y="528.3" font-size="8.5" text-anchor="end" fill="#1e1e1e" font-weight="normal" stroke="#1e1e1e" stroke-width="0.22" transform="rotate(-45 350.06 528.3)" >JMJD2D</text>
<rect x="356.45" y="433.78" width="7.1" height="84.52" fill="#d9d9d9" stroke="#303030" stroke-width="1.0" />
<line x1="360" y1="432.21" x2="360" y2="435.36" stroke="#111" stroke-width="0.8" />
<line x1="358.5" y1="432.21" x2="361.5" y2="432.21" stroke="#111" stroke-width="0.8" />
<line x1="358.5" y1="435.36" x2="361.5" y2="435.36" stroke="#111" stroke-width="0.8" />
<circle cx="360" cy="435.21" r="1.3" fill="#111" stroke="none" stroke-width="0.6"/>
<circle cx="360" cy="433.78" r="1.3" fill="#111" stroke="none" stroke-width="0.6"/>
<circle cx="360" cy="432.35" r="1.3" fill="#111" stroke="none" stroke-width="0.6"/>
<line x1="360" y1="518.3" x2="360" y2="520.1" stroke="#222" stroke-width="0.8" />
<text x="362.6" y="528.3" font-size="8.5" text-anchor="end" fill="#1e1e1e" font-weight="normal" stroke="#1e1e1e" stroke-width="0.22" transform="rotate(-45 362.6 528.3)" >JMJD2B</text>
<rect x="368.99" y="433.3" width="7.1" height="84.99" fill="#d9d9d9" stroke="#303030" stroke-width="1.0" />
<circle cx="369.94" cy="433.02" r="1.25" fill="#111" stroke="none" stroke-width="0.6"/>
<circle cx="372.54" cy="433.02" r="1.25" fill="#111" stroke="none" stroke-width="0.6"/>
<circle cx="375.14" cy="433.02" r="1.25" fill="#111" stroke="none" stroke-width="0.6"/>
<line x1="372.54" y1="518.3" x2="372.54" y2="520.1" stroke="#222" stroke-width="0.8" />
<text x="375.14" y="528.3" font-size="8.5" text-anchor="end" fill="#1e1e1e" font-weight="normal" stroke="#1e1e1e" stroke-width="0.22" transform="rotate(-45 375.14 528.3)" >JMJD2C</text>
<rect x="381.53" y="433.78" width="7.1" height="84.52" fill="#d9d9d9" stroke="#303030" stroke-width="1.0" />
<line x1="385.08" y1="429.58" x2="385.08" y2="437.98" stroke="#111" stroke-width="0.8" />
<line x1="383.58" y1="429.58" x2="386.58" y2="429.58" stroke="#111" stroke-width="0.8" />
<line x1="383.58" y1="437.98" x2="386.58" y2="437.98" stroke="#111" stroke-width="0.8" />
<circle cx="385.08" cy="437.6" r="1.3" fill="#111" stroke="none" stroke-width="0.6"/>
<circle cx="385.08" cy="433.78" r="1.3" fill="#111" stroke="none" stroke-width="0.6"/>
<circle cx="385.08" cy="429.96" r="1.3" fill="#111" stroke="none" stroke-width="0.6"/>
<line x1="385.08" y1="518.3" x2="385.08" y2="520.1" stroke="#222" stroke-width="0.8" />
<text x="387.68" y="528.3" font-size="8.5" text-anchor="end" fill="#1e1e1e" font-weight="normal" stroke="#1e1e1e" stroke-width="0.22" transform="rotate(-45 387.68 528.3)" >JHDM1D</text>
<rect x="394.07" y="441.42" width="7.1" height="76.88" fill="#d9d9d9" stroke="#303030" stroke-width="1.0" />
<line x1="397.62" y1="439.85" x2="397.62" y2="443" stroke="#111" stroke-width="0.8" />
<line x1="396.12" y1="439.85" x2="399.12" y2="439.85" stroke="#111" stroke-width="0.8" />
<line x1="396.12" y1="443" x2="399.12" y2="443" stroke="#111" stroke-width="0.8" />
<circle cx="397.62" cy="442.85" r="1.3" fill="#111" stroke="none" stroke-width="0.6"/>
<circle cx="397.62" cy="441.42" r="1.3" fill="#111" stroke="none" stroke-width="0.6"/>
<circle cx="397.62" cy="439.99" r="1.3" fill="#111" stroke="none" stroke-width="0.6"/>
<line x1="397.62" y1="518.3" x2="397.62" y2="520.1" stroke="#222" stroke-width="0.8" />
<text x="400.22" y="528.3" font-size="8.5" text-anchor="end" fill="#1e1e1e" font-weight="normal" stroke="#1e1e1e" stroke-width="0.22" transform="rotate(-45 400.22 528.3)" >Jarid1C</text>
<rect x="406.61" y="443.33" width="7.1" height="74.97" fill="#d9d9d9" stroke="#303030" stroke-width="1.0" />
<line x1="410.16" y1="440.18" x2="410.16" y2="446.48" stroke="#111" stroke-width="0.8" />
<line x1="408.66" y1="440.18" x2="411.66" y2="440.18" stroke="#111" stroke-width="0.8" />
<line x1="408.66" y1="446.48" x2="411.66" y2="446.48" stroke="#111" stroke-width="0.8" />
<circle cx="410.16" cy="446.2" r="1.3" fill="#111" stroke="none" stroke-width="0.6"/>
<circle cx="410.16" cy="443.33" r="1.3" fill="#111" stroke="none" stroke-width="0.6"/>
<circle cx="410.16" cy="440.47" r="1.3" fill="#111" stroke="none" stroke-width="0.6"/>
<line x1="410.16" y1="518.3" x2="410.16" y2="520.1" stroke="#222" stroke-width="0.8" />
<text x="412.76" y="528.3" font-size="8.5" text-anchor="end" fill="#1e1e1e" font-weight="normal" stroke="#1e1e1e" stroke-width="0.22" transform="rotate(-45 412.76 528.3)" >JMJD1A</text>
<rect x="419.15" y="447.63" width="7.1" height="70.67" fill="#d9d9d9" stroke="#303030" stroke-width="1.0" />
<line x1="422.7" y1="445.53" x2="422.7" y2="449.73" stroke="#111" stroke-width="0.8" />
<line x1="421.2" y1="445.53" x2="424.2" y2="445.53" stroke="#111" stroke-width="0.8" />
<line x1="421.2" y1="449.73" x2="424.2" y2="449.73" stroke="#111" stroke-width="0.8" />
<circle cx="422.7" cy="449.54" r="1.3" fill="#111" stroke="none" stroke-width="0.6"/>
<circle cx="422.7" cy="447.63" r="1.3" fill="#111" stroke="none" stroke-width="0.6"/>
<circle cx="422.7" cy="445.72" r="1.3" fill="#111" stroke="none" stroke-width="0.6"/>
<line x1="422.7" y1="518.3" x2="422.7" y2="520.1" stroke="#222" stroke-width="0.8" />
<text x="425.3" y="528.3" font-size="8.5" text-anchor="end" fill="#1e1e1e" font-weight="normal" stroke="#1e1e1e" stroke-width="0.22" transform="rotate(-45 425.3 528.3)" >UTX</text>
<rect x="431.69" y="498.72" width="7.1" height="19.58" fill="#d9d9d9" stroke="#303030" stroke-width="1.0" />
<line x1="435.24" y1="495.57" x2="435.24" y2="501.87" stroke="#111" stroke-width="0.8" />
<line x1="433.74" y1="495.57" x2="436.74" y2="495.57" stroke="#111" stroke-width="0.8" />
<line x1="433.74" y1="501.87" x2="436.74" y2="501.87" stroke="#111" stroke-width="0.8" />
<circle cx="435.24" cy="501.59" r="1.3" fill="#111" stroke="none" stroke-width="0.6"/>
<circle cx="435.24" cy="498.72" r="1.3" fill="#111" stroke="none" stroke-width="0.6"/>
<circle cx="435.24" cy="495.86" r="1.3" fill="#111" stroke="none" stroke-width="0.6"/>
<line x1="435.24" y1="518.3" x2="435.24" y2="520.1" stroke="#222" stroke-width="0.8" />
<text x="437.84" y="528.3" font-size="8.5" text-anchor="end" fill="#1e1e1e" font-weight="normal" stroke="#1e1e1e" stroke-width="0.22" transform="rotate(-45 437.84 528.3)" >TET3</text>
<rect x="444.23" y="499.39" width="7.1" height="18.91" fill="#d9d9d9" stroke="#303030" stroke-width="1.0" />
<line x1="447.78" y1="495.19" x2="447.78" y2="503.59" stroke="#111" stroke-width="0.8" />
<line x1="446.28" y1="495.19" x2="449.28" y2="495.19" stroke="#111" stroke-width="0.8" />
<line x1="446.28" y1="503.59" x2="449.28" y2="503.59" stroke="#111" stroke-width="0.8" />
<circle cx="447.78" cy="503.21" r="1.3" fill="#111" stroke="none" stroke-width="0.6"/>
<circle cx="447.78" cy="499.39" r="1.3" fill="#111" stroke="none" stroke-width="0.6"/>
<circle cx="447.78" cy="495.57" r="1.3" fill="#111" stroke="none" stroke-width="0.6"/>
<line x1="447.78" y1="518.3" x2="447.78" y2="520.1" stroke="#222" stroke-width="0.8" />
<text x="450.38" y="528.3" font-size="8.5" text-anchor="end" fill="#1e1e1e" font-weight="normal" stroke="#1e1e1e" stroke-width="0.22" transform="rotate(-45 450.38 528.3)" >TET2</text>
<rect x="456.77" y="515.05" width="7.1" height="3.25" fill="#d9d9d9" stroke="#303030" stroke-width="1.0" />
<circle cx="457.72" cy="514.77" r="1.25" fill="#111" stroke="none" stroke-width="0.6"/>
<circle cx="460.32" cy="514.77" r="1.25" fill="#111" stroke="none" stroke-width="0.6"/>
<circle cx="462.92" cy="514.77" r="1.25" fill="#111" stroke="none" stroke-width="0.6"/>
<line x1="460.32" y1="518.3" x2="460.32" y2="520.1" stroke="#222" stroke-width="0.8" />
<text x="462.92" y="528.3" font-size="8.5" text-anchor="end" fill="#1e1e1e" font-weight="normal" stroke="#1e1e1e" stroke-width="0.22" transform="rotate(-45 462.92 528.3)" >TET1</text>
<ellipse cx="66.3" cy="73.2" rx="31.8" ry="14.2" transform="rotate(-19 66.3 73.2)" fill="#f3e75c" opacity="0.92"/>
<path d="M53.2,38.8 L60.6,48.3 L68.6,51" stroke="#d2d6d6" stroke-width="1.9" fill="none" stroke-linecap="round" stroke-linejoin="round"/>
<path d="M60.6,48.3 L66,42.9 L70,40.2" stroke="#d2d6d6" stroke-width="1.9" fill="none" stroke-linecap="round" stroke-linejoin="round"/>
<path d="M33.6,52.3 L39,53.6 L46.4,51" stroke="#d2d6d6" stroke-width="1.9" fill="none" stroke-linecap="round" stroke-linejoin="round"/>
<path d="M43,53.6 L48.5,51 L51.1,56.3" stroke="#d2d6d6" stroke-width="1.9" fill="none" stroke-linecap="round" stroke-linejoin="round"/>
<path d="M6.7,67.8 L10.1,63.1 L17.5,60.4" stroke="#d2d6d6" stroke-width="1.9" fill="none" stroke-linecap="round" stroke-linejoin="round"/>
<path d="M10.8,71.1 L14.8,76.5 L17.5,78.5" stroke="#d2d6d6" stroke-width="1.9" fill="none" stroke-linecap="round" stroke-linejoin="round"/>
<path d="M30.3,86.4 L28.3,93.8 L20.2,94.5 L16.8,97.2 L14.8,101.9" stroke="#d2d6d6" stroke-width="1.9" fill="none" stroke-linecap="round" stroke-linejoin="round"/>
<path d="M39,101.2 L44.4,98.6 L47.8,100.6 L48.5,104.6" stroke="#d2d6d6" stroke-width="1.9" fill="none" stroke-linecap="round" stroke-linejoin="round"/>
<path d="M39,101.9 L39.7,110 L41,114" stroke="#d2d6d6" stroke-width="1.9" fill="none" stroke-linecap="round" stroke-linejoin="round"/>
<path d="M48.5,106 L50.5,108" stroke="#d2d6d6" stroke-width="1.9" fill="none" stroke-linecap="round" stroke-linejoin="round"/>
<path d="M71.4,88.5 L72.8,93.8 L74.8,99.2 L76.8,105.3 L77.5,110 L80.2,107.3" stroke="#d2d6d6" stroke-width="1.9" fill="none" stroke-linecap="round" stroke-linejoin="round"/>
<path d="M97,86.4 L99,93.8 L103.1,98.6 L104.4,103.9 L103.1,105.3" stroke="#d2d6d6" stroke-width="1.9" fill="none" stroke-linecap="round" stroke-linejoin="round"/>
<path d="M69.4,30.8 L70.1,36.2" stroke="#d2d6d6" stroke-width="1.9" fill="none" stroke-linecap="round" stroke-linejoin="round"/>
<path d="M60,33.5 L68.1,36.2 L73.5,36.2" stroke="#d2d6d6" stroke-width="1.9" fill="none" stroke-linecap="round" stroke-linejoin="round"/>
<path d="M69.4,41.5 L70.1,46.9 L73.5,48.9 L74.1,51" stroke="#d2d6d6" stroke-width="1.9" fill="none" stroke-linecap="round" stroke-linejoin="round"/>
<path d="M104.4,36.8 L108.5,34.8 L113.8,34.8 L116.5,32.8" stroke="#d2d6d6" stroke-width="1.9" fill="none" stroke-linecap="round" stroke-linejoin="round"/>
<path d="M93.6,48.9 L100.4,45.6 L105.8,43.6 L111.1,44.2 L114.5,43.6 L119.2,45.6 L121.9,49.6" stroke="#d2d6d6" stroke-width="1.9" fill="none" stroke-linecap="round" stroke-linejoin="round"/>
<path d="M95,56.3 L100.4,55.7 L101.7,61.7 L106.4,64.4 L107.1,71.1 L103.1,72.5 L105.8,75.2 L108.5,75.9" stroke="#d2d6d6" stroke-width="1.9" fill="none" stroke-linecap="round" stroke-linejoin="round"/>
<path d="M109.8,72.5 L115.2,73.2 L119.2,71.1" stroke="#d2d6d6" stroke-width="1.9" fill="none" stroke-linecap="round" stroke-linejoin="round"/>
<path d="M55,27 L60,33.5" stroke="#d2d6d6" stroke-width="1.9" fill="none" stroke-linecap="round" stroke-linejoin="round"/>
<path d="M44,33 L50,37 L53.2,38.8" stroke="#d2d6d6" stroke-width="1.9" fill="none" stroke-linecap="round" stroke-linejoin="round"/>
<path d="M57.9,34.8 L63.3,31.4" stroke="#cc3a48" stroke-width="1.5" fill="none" stroke-linecap="round" stroke-linejoin="round"/>
<path d="M66,33.5 L68.6,31.4" stroke="#cc3a48" stroke-width="1.5" fill="none" stroke-linecap="round" stroke-linejoin="round"/>
<path d="M38.4,46.9 L41,44.2" stroke="#cc3a48" stroke-width="1.5" fill="none" stroke-linecap="round" stroke-linejoin="round"/>
<path d="M31,59 L35.7,54.3" stroke="#cc3a48" stroke-width="1.5" fill="none" stroke-linecap="round" stroke-linejoin="round"/>
<path d="M41,59.7 L42.4,61" stroke="#cc3a48" stroke-width="1.5" fill="none" stroke-linecap="round" stroke-linejoin="round"/>
<path d="M16.2,61 L19.5,61.7" stroke="#cc3a48" stroke-width="1.5" fill="none" stroke-linecap="round" stroke-linejoin="round"/>
<path d="M28.9,82.4 L30.3,86.4" stroke="#cc3a48" stroke-width="1.5" fill="none" stroke-linecap="round" stroke-linejoin="round"/>
<path d="M41,114 L37.7,117.4" stroke="#cc3a48" stroke-width="1.5" fill="none" stroke-linecap="round" stroke-linejoin="round"/>
<path d="M50.5,108 L53.2,108.6" stroke="#cc3a48" stroke-width="1.5" fill="none" stroke-linecap="round" stroke-linejoin="round"/>
<path d="M70.8,102.6 L73.5,101.2" stroke="#cc3a48" stroke-width="1.5" fill="none" stroke-linecap="round" stroke-linejoin="round"/>
<path d="M97,103.3 L101,103.9" stroke="#cc3a48" stroke-width="1.5" fill="none" stroke-linecap="round" stroke-linejoin="round"/>
<path d="M102.4,103.9 L103.7,106" stroke="#cc3a48" stroke-width="1.5" fill="none" stroke-linecap="round" stroke-linejoin="round"/>
<path d="M80.2,107.3 L82.2,106.6" stroke="#cc3a48" stroke-width="1.5" fill="none" stroke-linecap="round" stroke-linejoin="round"/>
<path d="M73.5,36.2 L74.8,36.8" stroke="#cc3a48" stroke-width="1.5" fill="none" stroke-linecap="round" stroke-linejoin="round"/>
<path d="M78.8,36.2 L81.5,35.5" stroke="#cc3a48" stroke-width="1.5" fill="none" stroke-linecap="round" stroke-linejoin="round"/>
<path d="M66.7,35.5 L68.1,34.1" stroke="#cc3a48" stroke-width="1.5" fill="none" stroke-linecap="round" stroke-linejoin="round"/>
<path d="M115.9,30.8 L116.5,32.8" stroke="#cc3a48" stroke-width="1.5" fill="none" stroke-linecap="round" stroke-linejoin="round"/>
<path d="M104.4,46.2 L108.5,47.6" stroke="#cc3a48" stroke-width="1.5" fill="none" stroke-linecap="round" stroke-linejoin="round"/>
<path d="M109.8,45.6 L114.5,43.6" stroke="#cc3a48" stroke-width="1.5" fill="none" stroke-linecap="round" stroke-linejoin="round"/>
<path d="M121.9,50.3 L123.9,56.3 L125.9,60.4 L123.3,64.4 L121.2,65.8" stroke="#cc3a48" stroke-width="1.5" fill="none" stroke-linecap="round" stroke-linejoin="round"/>
<path d="M93.6,69.8 L96.3,71.1" stroke="#cc3a48" stroke-width="1.5" fill="none" stroke-linecap="round" stroke-linejoin="round"/>
<path d="M115.2,71.1 L117.9,73.2" stroke="#cc3a48" stroke-width="1.5" fill="none" stroke-linecap="round" stroke-linejoin="round"/>
<path d="M119.2,64.4 L123.3,65.8" stroke="#cc3a48" stroke-width="1.5" fill="none" stroke-linecap="round" stroke-linejoin="round"/>
<path d="M44,33 L46,31" stroke="#cc3a48" stroke-width="1.5" fill="none" stroke-linecap="round" stroke-linejoin="round"/>
<path d="M53.2,40.2 L55.2,41.5" stroke="#2e3e90" stroke-width="1.5" fill="none" stroke-linecap="round" stroke-linejoin="round"/>
<path d="M47.8,44.2 L48.5,48.9" stroke="#2e3e90" stroke-width="1.5" fill="none" stroke-linecap="round" stroke-linejoin="round"/>
<path d="M28.9,53.4 L32.3,53.6" stroke="#2e3e90" stroke-width="1.5" fill="none" stroke-linecap="round" stroke-linejoin="round"/>
<path d="M43.7,56.3 L46.4,55.7" stroke="#2e3e90" stroke-width="1.5" fill="none" stroke-linecap="round" stroke-linejoin="round"/>
<path d="M17.5,78.5 L23.6,77.9" stroke="#2e3e90" stroke-width="1.5" fill="none" stroke-linecap="round" stroke-linejoin="round"/>
<path d="M28.3,76.5 L35,79.2" stroke="#2e3e90" stroke-width="1.5" fill="none" stroke-linecap="round" stroke-linejoin="round"/>
<path d="M32.3,88.5 L36.3,89.1" stroke="#2e3e90" stroke-width="1.5" fill="none" stroke-linecap="round" stroke-linejoin="round"/>
<path d="M6.7,99.9 L10.1,100.6" stroke="#2e3e90" stroke-width="1.5" fill="none" stroke-linecap="round" stroke-linejoin="round"/>
<path d="M12.8,99.9 L15.5,102.6" stroke="#2e3e90" stroke-width="1.5" fill="none" stroke-linecap="round" stroke-linejoin="round"/>
<path d="M31,107.3 L34.3,108" stroke="#2e3e90" stroke-width="1.5" fill="none" stroke-linecap="round" stroke-linejoin="round"/>
<path d="M47.8,93.8 L51.8,91.8" stroke="#2e3e90" stroke-width="1.5" fill="none" stroke-linecap="round" stroke-linejoin="round"/>
<path d="M53.2,95.2 L55.2,99.2" stroke="#2e3e90" stroke-width="1.5" fill="none" stroke-linecap="round" stroke-linejoin="round"/>
<path d="M54.5,103.9 L59.2,105.3" stroke="#2e3e90" stroke-width="1.5" fill="none" stroke-linecap="round" stroke-linejoin="round"/>
<path d="M80.2,89.8 L83.6,88.5 L86.2,91.8 L84.9,97.2 L81.5,99.2 L78.8,96.5 L80.2,89.8" stroke="#2e3e90" stroke-width="1.5" fill="none" stroke-linecap="round" stroke-linejoin="round"/>
<path d="M87.6,85.1 L93.6,84.4 L95,87.8 L93,93.8 L88.9,92.5" stroke="#2e3e90" stroke-width="1.5" fill="none" stroke-linecap="round" stroke-linejoin="round"/>
<path d="M97.7,108.6 L100.4,107.3" stroke="#2e3e90" stroke-width="1.5" fill="none" stroke-linecap="round" stroke-linejoin="round"/>
<path d="M81.5,112.7 L86.2,113.4" stroke="#2e3e90" stroke-width="1.5" fill="none" stroke-linecap="round" stroke-linejoin="round"/>
<path d="M108.5,82.4 L109.8,79" stroke="#2e3e90" stroke-width="1.5" fill="none" stroke-linecap="round" stroke-linejoin="round"/>
<path d="M70.1,28.1 L69.4,30.8" stroke="#2e3e90" stroke-width="1.5" fill="none" stroke-linecap="round" stroke-linejoin="round"/>
<path d="M73.5,40.2 L72.8,41.5" stroke="#2e3e90" stroke-width="1.5" fill="none" stroke-linecap="round" stroke-linejoin="round"/>
<path d="M66,46.9 L66.7,45.6" stroke="#2e3e90" stroke-width="1.5" fill="none" stroke-linecap="round" stroke-linejoin="round"/>
<path d="M101,44.2 L104.4,43.6" stroke="#2e3e90" stroke-width="1.5" fill="none" stroke-linecap="round" stroke-linejoin="round"/>
<path d="M99,48.9 L100.4,51" stroke="#2e3e90" stroke-width="1.5" fill="none" stroke-linecap="round" stroke-linejoin="round"/>
<path d="M91,59 L92.3,60.4" stroke="#2e3e90" stroke-width="1.5" fill="none" stroke-linecap="round" stroke-linejoin="round"/>
<path d="M103.7,59 L105.1,60.4" stroke="#2e3e90" stroke-width="1.5" fill="none" stroke-linecap="round" stroke-linejoin="round"/>
<circle cx="6" cy="68.5" r="1" fill="#2e3e90" stroke="none" stroke-width="0.6"/>
<line x1="46.4" y1="64.4" x2="46.4" y2="71.1" stroke="#3d4fa8" stroke-width="0.8" stroke-dasharray="1.4,1.2"/>
<line x1="60.6" y1="55" x2="67.3" y2="51" stroke="#3d4fa8" stroke-width="0.8" stroke-dasharray="1.4,1.2"/>
<line x1="36.3" y1="79.2" x2="40.4" y2="77.9" stroke="#3d4fa8" stroke-width="0.8" stroke-dasharray="1.4,1.2"/>
<line x1="54.5" y1="92.5" x2="70" y2="91.8" stroke="#3d4fa8" stroke-width="0.8" stroke-dasharray="1.4,1.2"/>
<line x1="60" y1="59" x2="68.1" y2="52.3" stroke="#3d4fa8" stroke-width="0.8" stroke-dasharray="1.4,1.2"/>
<line x1="74.8" y1="52.3" x2="86.9" y2="51.6" stroke="#3d4fa8" stroke-width="0.8" stroke-dasharray="1.4,1.2"/>
<line x1="73.5" y1="49.6" x2="77.5" y2="56.3" stroke="#3d4fa8" stroke-width="0.8" stroke-dasharray="1.4,1.2"/>
<line x1="83.6" y1="84.4" x2="84.9" y2="80.4" stroke="#3d4fa8" stroke-width="0.8" stroke-dasharray="1.4,1.2"/>
<line x1="88" y1="78" x2="95" y2="70" stroke="#3d4fa8" stroke-width="0.8" stroke-dasharray="1.4,1.2"/>
<line x1="86" y1="76" x2="80" y2="68" stroke="#3d4fa8" stroke-width="0.8" stroke-dasharray="1.4,1.2"/>
<line x1="55" y1="58" x2="50" y2="62" stroke="#3d4fa8" stroke-width="0.8" stroke-dasharray="1.4,1.2"/>
<path d="M45.8,81.2 L48.8,75 L58.1,76.5 L63.5,73.5 L71.2,74.2 L75.8,68.1 L74.2,63.5 L81.9,59.6 L89.6,62.7 L91.2,66.5 L83.5,68.1 L75.8,68.1" stroke="#a89a28" stroke-width="1.4" fill="none" stroke-linecap="round" stroke-linejoin="round"/>
<path d="M71.2,74.2 L72.7,81.2 L84.2,80.4 L84.2,72.7 L83.5,68.1" stroke="#a89a28" stroke-width="1.4" fill="none" stroke-linecap="round" stroke-linejoin="round"/>
<path d="M48.8,75 L46.5,69.5" stroke="#a89a28" stroke-width="1.2" fill="none" stroke-linecap="round" stroke-linejoin="round"/>
<path d="M55.2,56.3 L59.2,56" stroke="#a8c830" stroke-width="1.4" fill="none" stroke-linecap="round" stroke-linejoin="round"/>
<text x="60" y="82.6" font-size="6.2" text-anchor="start" fill="#c0b040" font-weight="normal" stroke="#c0b040" stroke-width="0.22" >NOG</text>
<text x="72" y="33.9" font-size="6" text-anchor="start" fill="#333" font-weight="normal" stroke="#333" stroke-width="0.08" >T1372</text>
<text x="39.5" y="39.6" font-size="6" text-anchor="start" fill="#333" font-weight="normal" stroke="#333" stroke-width="0.08" >V1900</text>
<text x="73" y="46.4" font-size="6" text-anchor="start" fill="#333" font-weight="normal" stroke="#333" stroke-width="0.08" >S1284</text>
<text x="116" y="45.1" font-size="6" text-anchor="start" fill="#333" font-weight="normal" stroke="#333" stroke-width="0.08" >5mC</text>
<text x="18.8" y="50.4" font-size="6" text-anchor="start" fill="#333" font-weight="normal" stroke="#333" stroke-width="0.08" >S1898</text>
<text x="47" y="62.1" font-size="6" text-anchor="start" fill="#333" font-weight="normal" stroke="#333" stroke-width="0.08" >C1374</text>
<text x="108" y="62.1" font-size="6" text-anchor="start" fill="#333" font-weight="normal" stroke="#333" stroke-width="0.08" >R1261</text>
<text x="24.5" y="65.9" font-size="6" text-anchor="start" fill="#333" font-weight="normal" stroke="#333" stroke-width="0.08" >V1395</text>
<text x="13" y="72.1" font-size="6" text-anchor="start" fill="#333" font-weight="normal" stroke="#333" stroke-width="0.08" >R1896</text>
<text x="110" y="82.1" font-size="6" text-anchor="start" fill="#333" font-weight="normal" stroke="#333" stroke-width="0.08" >D1384</text>
<text x="4.5" y="93.4" font-size="6" text-anchor="start" fill="#333" font-weight="normal" stroke="#333" stroke-width="0.08" >Q1414</text>
<text x="102.5" y="95.1" font-size="6" text-anchor="start" fill="#333" font-weight="normal" stroke="#333" stroke-width="0.08" >H1382</text>
<text x="20.5" y="104.6" font-size="6" text-anchor="start" fill="#333" font-weight="normal" stroke="#333" stroke-width="0.08" >H1416</text>
<text x="59.3" y="110.9" font-size="6" text-anchor="start" fill="#333" font-weight="normal" stroke="#333" stroke-width="0.08" >A1379</text>
<text x="47.5" y="117.9" font-size="6" text-anchor="start" fill="#333" font-weight="normal" stroke="#333" stroke-width="0.08" >T1883</text>
<text x="79.5" y="118.9" font-size="6" text-anchor="start" fill="#333" font-weight="normal" stroke="#333" stroke-width="0.08" >H1881</text>
<text x="88.8" y="81.6" font-size="6" text-anchor="start" fill="#333" font-weight="normal" stroke="#333" stroke-width="0.08" >Fe<tspan font-size="4.2" dy="-2.4">2+</tspan></text>
</svg>
</body></html>
